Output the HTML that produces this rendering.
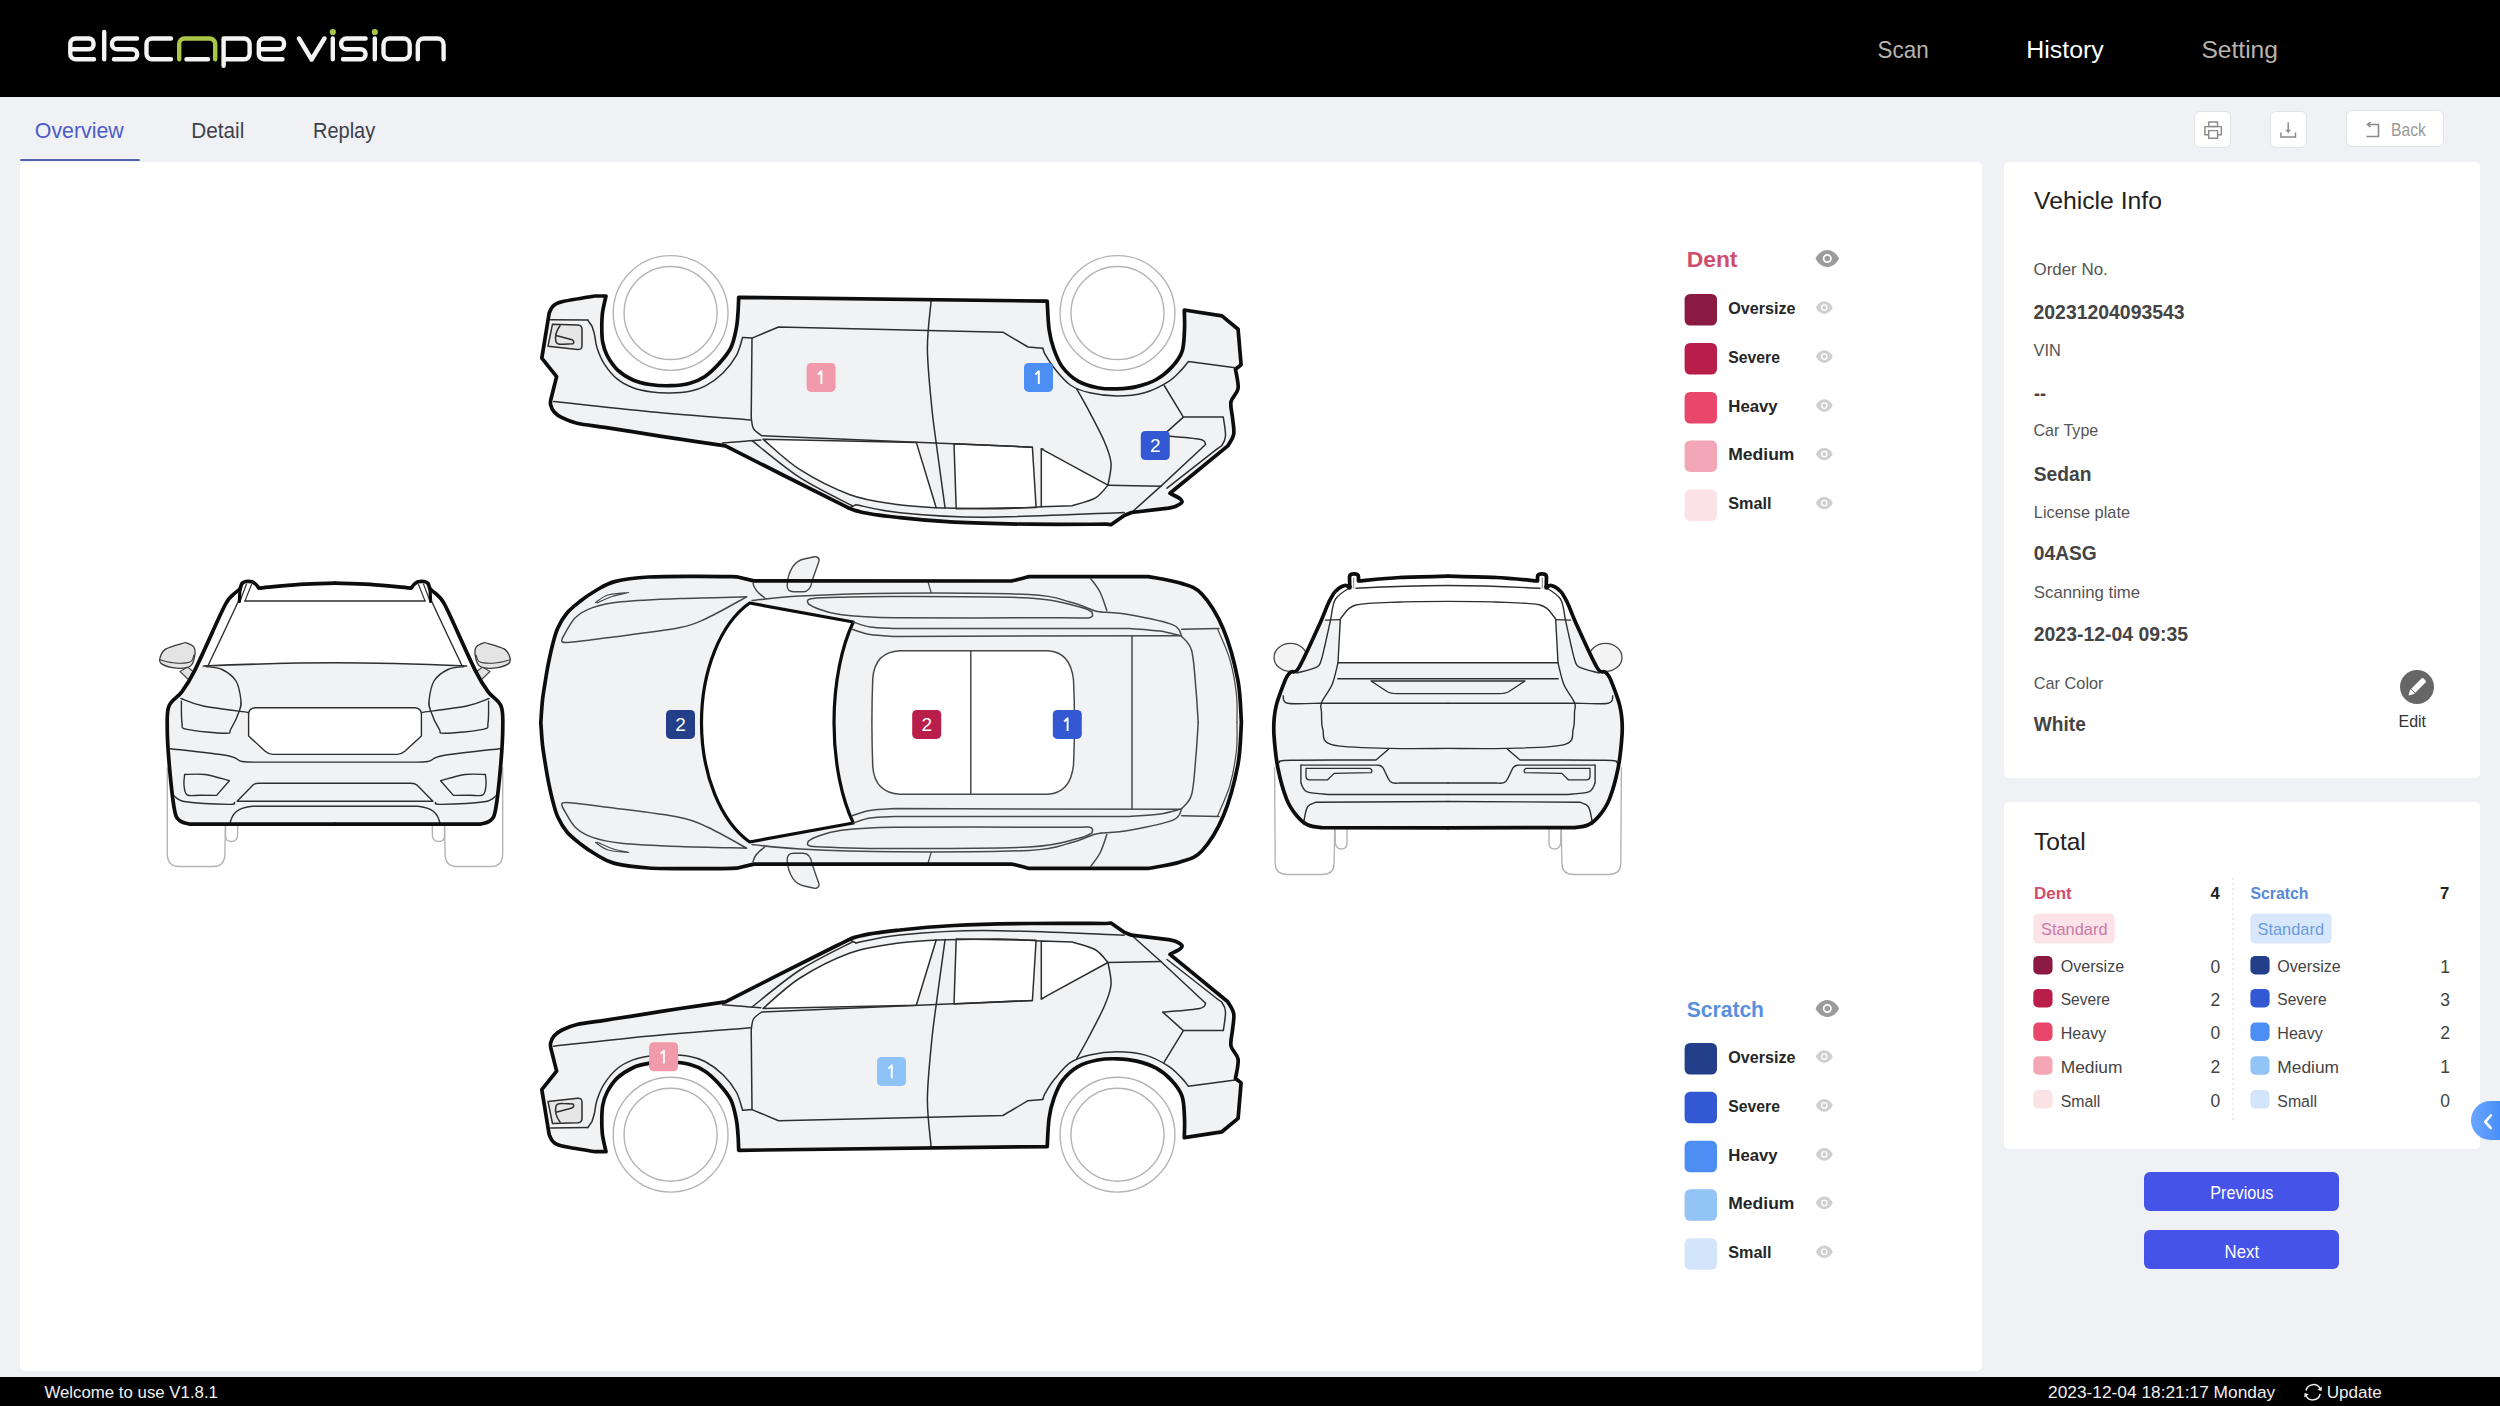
<!DOCTYPE html>
<html><head><meta charset="utf-8"><title>elscope vision - Overview</title>
<style>
html,body{margin:0;padding:0;}
body{width:2500px;height:1406px;overflow:hidden;position:relative;background:#f0f1f5;font-family:"Liberation Sans", sans-serif;}
.abs{position:absolute;}
#hdr{left:0;top:0;width:2500px;height:97px;background:#000;}
#ftr{left:0;top:1377px;width:2500px;height:29px;background:#000;}
#uline{left:19.5px;top:158.8px;width:120.5px;height:2.6px;background:#5262ad;border-radius:1px;}
#main{left:20px;top:162px;width:1962px;height:1209px;background:#fff;border-radius:5px;}
#info{left:2004px;top:162px;width:475.5px;height:616px;background:#fff;border-radius:5px;}
#total{left:2004px;top:802px;width:475.5px;height:347px;background:#fff;border-radius:5px;}
.ibtn{background:#fff;border:1px solid #e2e3e6;border-radius:6px;box-sizing:border-box;}
#bprint{left:2194px;top:111px;width:37px;height:37px;}
#bdown{left:2270px;top:111px;width:37px;height:37px;}
#bback{left:2346px;top:110px;width:98px;height:37px;}
.pbtn{left:2143.6px;width:195.4px;height:39px;background:#4553e8;border-radius:6px;}
#prev{top:1172px;}
#next{top:1230.2px;}
#tab{left:2471px;top:1101px;width:40px;height:39px;border-radius:19.5px 0 0 19.5px;background:linear-gradient(90deg,#6aa6ff,#3d86f6);}
svg{position:absolute;left:0;top:0;}
text{font-family:"Liberation Sans", sans-serif;}
</style></head>
<body>
<div class="abs" id="hdr"></div>
<div class="abs" id="main"></div>
<div class="abs" id="uline"></div>
<div class="abs" id="info"></div>
<div class="abs" id="total"></div>
<div class="abs ibtn" id="bprint"></div>
<div class="abs ibtn" id="bdown"></div>
<div class="abs ibtn" id="bback"></div>
<div class="abs pbtn" id="prev"></div>
<div class="abs pbtn" id="next"></div>
<div class="abs" id="tab"></div>
<div class="abs" id="ftr"></div>
<svg width="2500" height="1406" viewBox="0 0 2500 1406">
<g id="car-top-side" transform="translate(0,1447.7) scale(1,-1)"><circle cx="670.6" cy="1134.7" r="57.4" fill="#fff" stroke="#b4b4b4" stroke-width="1.4"/>
<circle cx="670.6" cy="1134.7" r="46.5" fill="none" stroke="#b4b4b4" stroke-width="1.4"/>
<circle cx="1117.5" cy="1134.7" r="57.4" fill="#fff" stroke="#b4b4b4" stroke-width="1.4"/>
<circle cx="1117.5" cy="1134.7" r="46.5" fill="none" stroke="#b4b4b4" stroke-width="1.4"/>
<path d="M606.0,1151.7 C605.4,1148.9 603.2,1140.3 602.5,1135.0 C601.8,1129.7 601.8,1125.0 601.8,1120.0 C601.8,1115.0 601.9,1109.7 602.8,1105.0 C603.7,1100.3 604.8,1096.5 607.2,1092.0 C609.6,1087.5 613.1,1082.0 617.4,1077.9 C621.7,1073.9 627.6,1070.2 633.0,1067.7 C638.4,1065.2 643.7,1064.2 650.0,1063.2 C656.3,1062.2 663.9,1061.8 670.6,1062.0 C677.3,1062.2 684.3,1063.0 690.0,1064.5 C695.7,1066.0 700.1,1067.9 705.0,1071.2 C709.9,1074.5 714.8,1079.3 719.1,1084.1 C723.4,1088.9 727.9,1093.9 730.8,1099.8 C733.7,1105.7 735.1,1113.4 736.3,1119.3 C737.5,1125.2 737.6,1129.8 738.0,1135.0 C738.4,1140.2 738.6,1147.8 738.7,1150.3 L1047.2,1146.6 C1047.5,1141.9 1048.0,1126.2 1049.1,1118.2 C1050.2,1110.2 1051.6,1105.0 1053.8,1098.7 C1056.0,1092.5 1058.4,1086.1 1062.4,1080.7 C1066.4,1075.3 1072.1,1070.0 1078.0,1066.6 C1083.9,1063.1 1091.1,1061.3 1097.6,1060.0 C1104.1,1058.7 1110.7,1058.6 1117.2,1058.8 C1123.7,1059.0 1130.2,1059.5 1136.7,1061.1 C1143.2,1062.7 1150.4,1064.9 1156.3,1068.2 C1162.2,1071.5 1167.6,1076.0 1171.9,1080.7 C1176.2,1085.4 1180.0,1090.0 1182.1,1096.3 C1184.2,1102.5 1184.1,1111.3 1184.5,1118.2 C1184.9,1125.1 1184.3,1134.5 1184.3,1137.7 L1221.9,1131.8 L1238.1,1118.4 L1241.1,1082.9 L1235.5,1078.5 C1235.9,1075.3 1238.8,1064.6 1238.1,1059.2 C1237.3,1053.8 1231.9,1050.9 1231.0,1046.0 C1230.1,1041.1 1232.0,1035.4 1232.5,1030.0 C1233.0,1024.6 1234.5,1018.3 1233.7,1013.6 C1232.9,1008.9 1228.8,1003.8 1227.8,1001.8 L1170.0,954.4 C1171.7,953.5 1178.0,950.5 1180.0,949.0 C1182.0,947.5 1182.6,946.8 1181.9,945.5 C1181.2,944.2 1178.2,942.5 1176.0,941.5 C1173.8,940.5 1169.8,939.9 1168.6,939.6 L1131.6,935.2 L1124.2,932.2 L1111.0,923.0 L1106.0,923.5 C1093.3,923.5 1055.3,923.2 1030.0,923.5 C1004.7,923.8 975.7,924.4 954.0,925.5 C932.3,926.6 915.7,928.2 900.0,930.0 C884.3,931.8 870.8,933.2 860.0,936.0 C849.2,938.8 857.4,935.5 835.0,946.5 C812.6,957.5 743.7,992.6 725.4,1001.8 C717.8,1002.9 695.3,1006.2 680.0,1008.5 C664.7,1010.8 646.1,1013.8 633.6,1015.8 C621.1,1017.8 614.1,1018.8 604.7,1020.3 C595.3,1021.8 584.1,1022.9 577.0,1024.5 C569.9,1026.1 565.8,1028.1 562.0,1030.0 C558.2,1031.9 555.9,1033.8 554.0,1036.0 C552.1,1038.2 551.1,1041.0 550.6,1043.0 C550.1,1045.0 550.8,1047.2 550.8,1048.0 L556.6,1071.1 L541.8,1089.6 L549.2,1134.7 C549.8,1135.8 550.9,1139.6 553.0,1141.5 C555.1,1143.4 555.0,1144.3 562.0,1146.0 C569.0,1147.7 589.6,1150.8 595.1,1151.7 Z" fill="#f1f2f4" stroke="none" stroke-width="0" stroke-linejoin="round" stroke-linecap="round"/>
<path d="M763.0,1008.5 C769.2,1003.4 785.5,987.2 800.0,978.0 C814.5,968.8 834.2,958.8 850.0,953.0 C865.8,947.2 880.6,945.7 895.0,943.5 C909.4,941.3 929.3,940.6 936.2,940.0 L916.3,1005.3 Z" fill="#fff" stroke="#2e2e2e" stroke-width="1.5" stroke-linejoin="round" stroke-linecap="round"/>
<path d="M954.0,1003.9 L956.2,938.9 L1036.1,940.3 L1032.4,1000.5 Z" fill="#fff" stroke="#2e2e2e" stroke-width="1.5" stroke-linejoin="round" stroke-linecap="round"/>
<path d="M1041.3,941.0 L1072.0,942.0 C1075.8,943.2 1089.0,946.1 1095.0,949.5 C1101.0,952.9 1105.8,960.3 1107.9,962.5 L1041.3,998.8 Z" fill="#fff" stroke="#2e2e2e" stroke-width="1.5" stroke-linejoin="round" stroke-linecap="round"/>
<path d="M553.7,1046.2 C569.8,1044.5 617.2,1039.1 650.0,1036.0 C682.8,1032.9 733.8,1029.1 750.5,1027.7" fill="none" stroke="#2e2e2e" stroke-width="1.5" stroke-linejoin="round" stroke-linecap="round"/>
<path d="M752.0,1109.6 L751.2,1030.0 C751.6,1028.2 751.8,1022.0 753.5,1019.0 C755.2,1016.0 760.2,1013.2 761.6,1012.0 L1032.4,1000.5" fill="none" stroke="#2e2e2e" stroke-width="1.5" stroke-linejoin="round" stroke-linecap="round"/>
<path d="M1041.3,998.8 L1043.0,998.6" fill="none" stroke="#2e2e2e" stroke-width="1.5" stroke-linejoin="round" stroke-linecap="round"/>
<path d="M722.4,1004.7 C726.2,1005.0 738.6,1006.0 745.0,1006.5 C751.4,1007.0 758.2,1007.5 760.9,1007.7" fill="none" stroke="#2e2e2e" stroke-width="1.5" stroke-linejoin="round" stroke-linecap="round"/>
<path d="M752.0,1007.0 C760.0,1000.8 783.2,980.9 800.0,970.0 C816.8,959.1 843.8,946.5 852.6,941.8" fill="none" stroke="#2e2e2e" stroke-width="1.5" stroke-linejoin="round" stroke-linecap="round"/>
<path d="M848.0,939.0 L856.0,943.0" fill="none" stroke="#2e2e2e" stroke-width="1.5" stroke-linejoin="round" stroke-linecap="round"/>
<path d="M856.0,943.0 C863.3,941.7 878.7,937.1 900.0,935.0 C921.3,932.9 946.2,930.5 983.6,930.5 C1021.0,930.5 1100.8,934.4 1124.2,935.2" fill="none" stroke="#2e2e2e" stroke-width="1.5" stroke-linejoin="round" stroke-linecap="round"/>
<path d="M936.2,940.0 C946.8,939.8 982.5,938.8 1000.0,939.0 C1017.5,939.2 1034.4,940.7 1041.3,941.0" fill="none" stroke="#2e2e2e" stroke-width="1.5" stroke-linejoin="round" stroke-linecap="round"/>
<path d="M945.1,939.6 C943.6,950.5 938.4,988.0 936.2,1004.7 C934.0,1021.4 933.3,1024.2 931.8,1040.0 C930.3,1055.8 927.5,1081.4 927.4,1099.2 C927.3,1117.0 930.5,1138.7 931.1,1146.6" fill="none" stroke="#2e2e2e" stroke-width="1.5" stroke-linejoin="round" stroke-linecap="round"/>
<path d="M1108.0,962.5 C1108.5,966.2 1111.7,977.6 1111.0,985.0 C1110.3,992.4 1108.0,997.8 1104.0,1007.0 C1100.0,1016.2 1091.7,1031.4 1087.2,1040.0 C1082.7,1048.6 1078.5,1055.4 1076.8,1058.5" fill="none" stroke="#2e2e2e" stroke-width="1.5" stroke-linejoin="round" stroke-linecap="round"/>
<path d="M1108.0,962.5 L1161.2,961.5" fill="none" stroke="#2e2e2e" stroke-width="1.5" stroke-linejoin="round" stroke-linecap="round"/>
<path d="M1131.6,935.2 L1161.2,961.8 L1205.6,1003.2 C1204.6,1004.1 1206.8,1006.9 1199.7,1008.4 C1192.6,1009.9 1168.9,1011.5 1162.7,1012.1 L1183.4,1030.6 L1223.3,1030.6 C1223.7,1027.5 1225.7,1016.7 1225.5,1012.0 C1225.3,1007.3 1223.7,1004.9 1222.0,1002.5 C1220.3,1000.1 1224.7,1004.7 1215.5,997.5 C1206.3,990.3 1175.1,965.8 1167.0,959.5" fill="none" stroke="#2e2e2e" stroke-width="1.5" stroke-linejoin="round" stroke-linecap="round"/>
<path d="M1183.4,1030.6 L1164.2,1062.2" fill="none" stroke="#2e2e2e" stroke-width="1.5" stroke-linejoin="round" stroke-linecap="round"/>
<path d="M743.1,1110.3 L752.0,1109.6 L778.6,1120.7 L1002.8,1115.5 L1028.0,1100.7 L1042.8,1099.5" fill="none" stroke="#2e2e2e" stroke-width="1.5" stroke-linejoin="round" stroke-linecap="round"/>
<path d="M587.8,1127.6 L592.0,1121.5 C592.4,1120.1 593.7,1116.6 594.5,1113.0 C595.3,1109.4 595.4,1104.8 597.0,1100.0 C598.6,1095.2 600.7,1089.3 604.1,1084.1 C607.5,1078.8 612.6,1072.5 617.4,1068.5 C622.2,1064.5 627.6,1062.0 633.0,1059.9 C638.4,1057.8 643.8,1056.8 650.0,1056.0 C656.2,1055.2 663.3,1054.7 670.0,1054.8 C676.7,1054.9 684.2,1055.4 690.0,1056.5 C695.8,1057.6 699.5,1058.5 705.0,1061.5 C710.5,1064.5 717.8,1069.6 723.0,1074.7 C728.2,1079.8 733.0,1086.1 736.3,1092.0 C739.6,1097.9 741.5,1107.2 742.6,1110.3" fill="none" stroke="#2e2e2e" stroke-width="1.5" stroke-linejoin="round" stroke-linecap="round"/>
<path d="M1042.8,1099.5 C1043.2,1098.5 1043.2,1096.6 1045.2,1093.2 C1047.2,1089.8 1050.4,1084.2 1054.6,1079.1 C1058.8,1074.0 1064.3,1066.7 1070.2,1062.7 C1076.1,1058.7 1082.0,1056.7 1089.8,1054.9 C1097.6,1053.1 1108.1,1051.7 1117.2,1051.7 C1126.3,1051.7 1136.0,1052.6 1144.5,1054.9 C1153.0,1057.2 1161.9,1062.0 1168.0,1065.8 C1174.1,1069.6 1177.9,1074.2 1181.3,1077.6 C1184.7,1081.0 1187.2,1084.8 1188.4,1086.2 L1235.2,1080.0" fill="none" stroke="#2e2e2e" stroke-width="1.5" stroke-linejoin="round" stroke-linecap="round"/>
<path d="M550.7,1128.0 L587.8,1127.6" fill="none" stroke="#2e2e2e" stroke-width="1.5" stroke-linejoin="round" stroke-linecap="round"/>
<path d="M548,1101.5 L577.5,1098.2 Q582,1097.8 582,1102 L582,1118.5 Q582,1122.5 578,1122.8 L552.5,1123.5 Z" fill="#e6e6e6" stroke="#2e2e2e" stroke-width="1.5" stroke-linejoin="round" stroke-linecap="round"/>
<path d="M556,1106 Q557,1103 563,1103.5 L573,1104 Q575,1106 572,1108 L557,1112 M556,1106 Q554,1114 560,1122" fill="none" stroke="#2e2e2e" stroke-width="1.5" stroke-linejoin="round" stroke-linecap="round"/>
<path d="M606.0,1151.7 C605.4,1148.9 603.2,1140.3 602.5,1135.0 C601.8,1129.7 601.8,1125.0 601.8,1120.0 C601.8,1115.0 601.9,1109.7 602.8,1105.0 C603.7,1100.3 604.8,1096.5 607.2,1092.0 C609.6,1087.5 613.1,1082.0 617.4,1077.9 C621.7,1073.9 627.6,1070.2 633.0,1067.7 C638.4,1065.2 643.7,1064.2 650.0,1063.2 C656.3,1062.2 663.9,1061.8 670.6,1062.0 C677.3,1062.2 684.3,1063.0 690.0,1064.5 C695.7,1066.0 700.1,1067.9 705.0,1071.2 C709.9,1074.5 714.8,1079.3 719.1,1084.1 C723.4,1088.9 727.9,1093.9 730.8,1099.8 C733.7,1105.7 735.1,1113.4 736.3,1119.3 C737.5,1125.2 737.6,1129.8 738.0,1135.0 C738.4,1140.2 738.6,1147.8 738.7,1150.3 L1047.2,1146.6 C1047.5,1141.9 1048.0,1126.2 1049.1,1118.2 C1050.2,1110.2 1051.6,1105.0 1053.8,1098.7 C1056.0,1092.5 1058.4,1086.1 1062.4,1080.7 C1066.4,1075.3 1072.1,1070.0 1078.0,1066.6 C1083.9,1063.1 1091.1,1061.3 1097.6,1060.0 C1104.1,1058.7 1110.7,1058.6 1117.2,1058.8 C1123.7,1059.0 1130.2,1059.5 1136.7,1061.1 C1143.2,1062.7 1150.4,1064.9 1156.3,1068.2 C1162.2,1071.5 1167.6,1076.0 1171.9,1080.7 C1176.2,1085.4 1180.0,1090.0 1182.1,1096.3 C1184.2,1102.5 1184.1,1111.3 1184.5,1118.2 C1184.9,1125.1 1184.3,1134.5 1184.3,1137.7 L1221.9,1131.8 L1238.1,1118.4 L1241.1,1082.9 L1235.5,1078.5 C1235.9,1075.3 1238.8,1064.6 1238.1,1059.2 C1237.3,1053.8 1231.9,1050.9 1231.0,1046.0 C1230.1,1041.1 1232.0,1035.4 1232.5,1030.0 C1233.0,1024.6 1234.5,1018.3 1233.7,1013.6 C1232.9,1008.9 1228.8,1003.8 1227.8,1001.8 L1170.0,954.4 C1171.7,953.5 1178.0,950.5 1180.0,949.0 C1182.0,947.5 1182.6,946.8 1181.9,945.5 C1181.2,944.2 1178.2,942.5 1176.0,941.5 C1173.8,940.5 1169.8,939.9 1168.6,939.6 L1131.6,935.2 L1124.2,932.2 L1111.0,923.0 L1106.0,923.5 C1093.3,923.5 1055.3,923.2 1030.0,923.5 C1004.7,923.8 975.7,924.4 954.0,925.5 C932.3,926.6 915.7,928.2 900.0,930.0 C884.3,931.8 870.8,933.2 860.0,936.0 C849.2,938.8 857.4,935.5 835.0,946.5 C812.6,957.5 743.7,992.6 725.4,1001.8 C717.8,1002.9 695.3,1006.2 680.0,1008.5 C664.7,1010.8 646.1,1013.8 633.6,1015.8 C621.1,1017.8 614.1,1018.8 604.7,1020.3 C595.3,1021.8 584.1,1022.9 577.0,1024.5 C569.9,1026.1 565.8,1028.1 562.0,1030.0 C558.2,1031.9 555.9,1033.8 554.0,1036.0 C552.1,1038.2 551.1,1041.0 550.6,1043.0 C550.1,1045.0 550.8,1047.2 550.8,1048.0 L556.6,1071.1 L541.8,1089.6 L549.2,1134.7 C549.8,1135.8 550.9,1139.6 553.0,1141.5 C555.1,1143.4 555.0,1144.3 562.0,1146.0 C569.0,1147.7 589.6,1150.8 595.1,1151.7 Z" fill="none" stroke="#0d0d0d" stroke-width="3.7" stroke-linejoin="round" stroke-linecap="round"/></g>
<g id="car-bottom-side"><circle cx="670.6" cy="1134.7" r="57.4" fill="#fff" stroke="#b4b4b4" stroke-width="1.4"/>
<circle cx="670.6" cy="1134.7" r="46.5" fill="none" stroke="#b4b4b4" stroke-width="1.4"/>
<circle cx="1117.5" cy="1134.7" r="57.4" fill="#fff" stroke="#b4b4b4" stroke-width="1.4"/>
<circle cx="1117.5" cy="1134.7" r="46.5" fill="none" stroke="#b4b4b4" stroke-width="1.4"/>
<path d="M606.0,1151.7 C605.4,1148.9 603.2,1140.3 602.5,1135.0 C601.8,1129.7 601.8,1125.0 601.8,1120.0 C601.8,1115.0 601.9,1109.7 602.8,1105.0 C603.7,1100.3 604.8,1096.5 607.2,1092.0 C609.6,1087.5 613.1,1082.0 617.4,1077.9 C621.7,1073.9 627.6,1070.2 633.0,1067.7 C638.4,1065.2 643.7,1064.2 650.0,1063.2 C656.3,1062.2 663.9,1061.8 670.6,1062.0 C677.3,1062.2 684.3,1063.0 690.0,1064.5 C695.7,1066.0 700.1,1067.9 705.0,1071.2 C709.9,1074.5 714.8,1079.3 719.1,1084.1 C723.4,1088.9 727.9,1093.9 730.8,1099.8 C733.7,1105.7 735.1,1113.4 736.3,1119.3 C737.5,1125.2 737.6,1129.8 738.0,1135.0 C738.4,1140.2 738.6,1147.8 738.7,1150.3 L1047.2,1146.6 C1047.5,1141.9 1048.0,1126.2 1049.1,1118.2 C1050.2,1110.2 1051.6,1105.0 1053.8,1098.7 C1056.0,1092.5 1058.4,1086.1 1062.4,1080.7 C1066.4,1075.3 1072.1,1070.0 1078.0,1066.6 C1083.9,1063.1 1091.1,1061.3 1097.6,1060.0 C1104.1,1058.7 1110.7,1058.6 1117.2,1058.8 C1123.7,1059.0 1130.2,1059.5 1136.7,1061.1 C1143.2,1062.7 1150.4,1064.9 1156.3,1068.2 C1162.2,1071.5 1167.6,1076.0 1171.9,1080.7 C1176.2,1085.4 1180.0,1090.0 1182.1,1096.3 C1184.2,1102.5 1184.1,1111.3 1184.5,1118.2 C1184.9,1125.1 1184.3,1134.5 1184.3,1137.7 L1221.9,1131.8 L1238.1,1118.4 L1241.1,1082.9 L1235.5,1078.5 C1235.9,1075.3 1238.8,1064.6 1238.1,1059.2 C1237.3,1053.8 1231.9,1050.9 1231.0,1046.0 C1230.1,1041.1 1232.0,1035.4 1232.5,1030.0 C1233.0,1024.6 1234.5,1018.3 1233.7,1013.6 C1232.9,1008.9 1228.8,1003.8 1227.8,1001.8 L1170.0,954.4 C1171.7,953.5 1178.0,950.5 1180.0,949.0 C1182.0,947.5 1182.6,946.8 1181.9,945.5 C1181.2,944.2 1178.2,942.5 1176.0,941.5 C1173.8,940.5 1169.8,939.9 1168.6,939.6 L1131.6,935.2 L1124.2,932.2 L1111.0,923.0 L1106.0,923.5 C1093.3,923.5 1055.3,923.2 1030.0,923.5 C1004.7,923.8 975.7,924.4 954.0,925.5 C932.3,926.6 915.7,928.2 900.0,930.0 C884.3,931.8 870.8,933.2 860.0,936.0 C849.2,938.8 857.4,935.5 835.0,946.5 C812.6,957.5 743.7,992.6 725.4,1001.8 C717.8,1002.9 695.3,1006.2 680.0,1008.5 C664.7,1010.8 646.1,1013.8 633.6,1015.8 C621.1,1017.8 614.1,1018.8 604.7,1020.3 C595.3,1021.8 584.1,1022.9 577.0,1024.5 C569.9,1026.1 565.8,1028.1 562.0,1030.0 C558.2,1031.9 555.9,1033.8 554.0,1036.0 C552.1,1038.2 551.1,1041.0 550.6,1043.0 C550.1,1045.0 550.8,1047.2 550.8,1048.0 L556.6,1071.1 L541.8,1089.6 L549.2,1134.7 C549.8,1135.8 550.9,1139.6 553.0,1141.5 C555.1,1143.4 555.0,1144.3 562.0,1146.0 C569.0,1147.7 589.6,1150.8 595.1,1151.7 Z" fill="#f1f2f4" stroke="none" stroke-width="0" stroke-linejoin="round" stroke-linecap="round"/>
<path d="M763.0,1008.5 C769.2,1003.4 785.5,987.2 800.0,978.0 C814.5,968.8 834.2,958.8 850.0,953.0 C865.8,947.2 880.6,945.7 895.0,943.5 C909.4,941.3 929.3,940.6 936.2,940.0 L916.3,1005.3 Z" fill="#fff" stroke="#2e2e2e" stroke-width="1.5" stroke-linejoin="round" stroke-linecap="round"/>
<path d="M954.0,1003.9 L956.2,938.9 L1036.1,940.3 L1032.4,1000.5 Z" fill="#fff" stroke="#2e2e2e" stroke-width="1.5" stroke-linejoin="round" stroke-linecap="round"/>
<path d="M1041.3,941.0 L1072.0,942.0 C1075.8,943.2 1089.0,946.1 1095.0,949.5 C1101.0,952.9 1105.8,960.3 1107.9,962.5 L1041.3,998.8 Z" fill="#fff" stroke="#2e2e2e" stroke-width="1.5" stroke-linejoin="round" stroke-linecap="round"/>
<path d="M553.7,1046.2 C569.8,1044.5 617.2,1039.1 650.0,1036.0 C682.8,1032.9 733.8,1029.1 750.5,1027.7" fill="none" stroke="#2e2e2e" stroke-width="1.5" stroke-linejoin="round" stroke-linecap="round"/>
<path d="M752.0,1109.6 L751.2,1030.0 C751.6,1028.2 751.8,1022.0 753.5,1019.0 C755.2,1016.0 760.2,1013.2 761.6,1012.0 L1032.4,1000.5" fill="none" stroke="#2e2e2e" stroke-width="1.5" stroke-linejoin="round" stroke-linecap="round"/>
<path d="M1041.3,998.8 L1043.0,998.6" fill="none" stroke="#2e2e2e" stroke-width="1.5" stroke-linejoin="round" stroke-linecap="round"/>
<path d="M722.4,1004.7 C726.2,1005.0 738.6,1006.0 745.0,1006.5 C751.4,1007.0 758.2,1007.5 760.9,1007.7" fill="none" stroke="#2e2e2e" stroke-width="1.5" stroke-linejoin="round" stroke-linecap="round"/>
<path d="M752.0,1007.0 C760.0,1000.8 783.2,980.9 800.0,970.0 C816.8,959.1 843.8,946.5 852.6,941.8" fill="none" stroke="#2e2e2e" stroke-width="1.5" stroke-linejoin="round" stroke-linecap="round"/>
<path d="M848.0,939.0 L856.0,943.0" fill="none" stroke="#2e2e2e" stroke-width="1.5" stroke-linejoin="round" stroke-linecap="round"/>
<path d="M856.0,943.0 C863.3,941.7 878.7,937.1 900.0,935.0 C921.3,932.9 946.2,930.5 983.6,930.5 C1021.0,930.5 1100.8,934.4 1124.2,935.2" fill="none" stroke="#2e2e2e" stroke-width="1.5" stroke-linejoin="round" stroke-linecap="round"/>
<path d="M936.2,940.0 C946.8,939.8 982.5,938.8 1000.0,939.0 C1017.5,939.2 1034.4,940.7 1041.3,941.0" fill="none" stroke="#2e2e2e" stroke-width="1.5" stroke-linejoin="round" stroke-linecap="round"/>
<path d="M945.1,939.6 C943.6,950.5 938.4,988.0 936.2,1004.7 C934.0,1021.4 933.3,1024.2 931.8,1040.0 C930.3,1055.8 927.5,1081.4 927.4,1099.2 C927.3,1117.0 930.5,1138.7 931.1,1146.6" fill="none" stroke="#2e2e2e" stroke-width="1.5" stroke-linejoin="round" stroke-linecap="round"/>
<path d="M1108.0,962.5 C1108.5,966.2 1111.7,977.6 1111.0,985.0 C1110.3,992.4 1108.0,997.8 1104.0,1007.0 C1100.0,1016.2 1091.7,1031.4 1087.2,1040.0 C1082.7,1048.6 1078.5,1055.4 1076.8,1058.5" fill="none" stroke="#2e2e2e" stroke-width="1.5" stroke-linejoin="round" stroke-linecap="round"/>
<path d="M1108.0,962.5 L1161.2,961.5" fill="none" stroke="#2e2e2e" stroke-width="1.5" stroke-linejoin="round" stroke-linecap="round"/>
<path d="M1131.6,935.2 L1161.2,961.8 L1205.6,1003.2 C1204.6,1004.1 1206.8,1006.9 1199.7,1008.4 C1192.6,1009.9 1168.9,1011.5 1162.7,1012.1 L1183.4,1030.6 L1223.3,1030.6 C1223.7,1027.5 1225.7,1016.7 1225.5,1012.0 C1225.3,1007.3 1223.7,1004.9 1222.0,1002.5 C1220.3,1000.1 1224.7,1004.7 1215.5,997.5 C1206.3,990.3 1175.1,965.8 1167.0,959.5" fill="none" stroke="#2e2e2e" stroke-width="1.5" stroke-linejoin="round" stroke-linecap="round"/>
<path d="M1183.4,1030.6 L1164.2,1062.2" fill="none" stroke="#2e2e2e" stroke-width="1.5" stroke-linejoin="round" stroke-linecap="round"/>
<path d="M743.1,1110.3 L752.0,1109.6 L778.6,1120.7 L1002.8,1115.5 L1028.0,1100.7 L1042.8,1099.5" fill="none" stroke="#2e2e2e" stroke-width="1.5" stroke-linejoin="round" stroke-linecap="round"/>
<path d="M587.8,1127.6 L592.0,1121.5 C592.4,1120.1 593.7,1116.6 594.5,1113.0 C595.3,1109.4 595.4,1104.8 597.0,1100.0 C598.6,1095.2 600.7,1089.3 604.1,1084.1 C607.5,1078.8 612.6,1072.5 617.4,1068.5 C622.2,1064.5 627.6,1062.0 633.0,1059.9 C638.4,1057.8 643.8,1056.8 650.0,1056.0 C656.2,1055.2 663.3,1054.7 670.0,1054.8 C676.7,1054.9 684.2,1055.4 690.0,1056.5 C695.8,1057.6 699.5,1058.5 705.0,1061.5 C710.5,1064.5 717.8,1069.6 723.0,1074.7 C728.2,1079.8 733.0,1086.1 736.3,1092.0 C739.6,1097.9 741.5,1107.2 742.6,1110.3" fill="none" stroke="#2e2e2e" stroke-width="1.5" stroke-linejoin="round" stroke-linecap="round"/>
<path d="M1042.8,1099.5 C1043.2,1098.5 1043.2,1096.6 1045.2,1093.2 C1047.2,1089.8 1050.4,1084.2 1054.6,1079.1 C1058.8,1074.0 1064.3,1066.7 1070.2,1062.7 C1076.1,1058.7 1082.0,1056.7 1089.8,1054.9 C1097.6,1053.1 1108.1,1051.7 1117.2,1051.7 C1126.3,1051.7 1136.0,1052.6 1144.5,1054.9 C1153.0,1057.2 1161.9,1062.0 1168.0,1065.8 C1174.1,1069.6 1177.9,1074.2 1181.3,1077.6 C1184.7,1081.0 1187.2,1084.8 1188.4,1086.2 L1235.2,1080.0" fill="none" stroke="#2e2e2e" stroke-width="1.5" stroke-linejoin="round" stroke-linecap="round"/>
<path d="M550.7,1128.0 L587.8,1127.6" fill="none" stroke="#2e2e2e" stroke-width="1.5" stroke-linejoin="round" stroke-linecap="round"/>
<path d="M548,1101.5 L577.5,1098.2 Q582,1097.8 582,1102 L582,1118.5 Q582,1122.5 578,1122.8 L552.5,1123.5 Z" fill="#e6e6e6" stroke="#2e2e2e" stroke-width="1.5" stroke-linejoin="round" stroke-linecap="round"/>
<path d="M556,1106 Q557,1103 563,1103.5 L573,1104 Q575,1106 572,1108 L557,1112 M556,1106 Q554,1114 560,1122" fill="none" stroke="#2e2e2e" stroke-width="1.5" stroke-linejoin="round" stroke-linecap="round"/>
<path d="M606.0,1151.7 C605.4,1148.9 603.2,1140.3 602.5,1135.0 C601.8,1129.7 601.8,1125.0 601.8,1120.0 C601.8,1115.0 601.9,1109.7 602.8,1105.0 C603.7,1100.3 604.8,1096.5 607.2,1092.0 C609.6,1087.5 613.1,1082.0 617.4,1077.9 C621.7,1073.9 627.6,1070.2 633.0,1067.7 C638.4,1065.2 643.7,1064.2 650.0,1063.2 C656.3,1062.2 663.9,1061.8 670.6,1062.0 C677.3,1062.2 684.3,1063.0 690.0,1064.5 C695.7,1066.0 700.1,1067.9 705.0,1071.2 C709.9,1074.5 714.8,1079.3 719.1,1084.1 C723.4,1088.9 727.9,1093.9 730.8,1099.8 C733.7,1105.7 735.1,1113.4 736.3,1119.3 C737.5,1125.2 737.6,1129.8 738.0,1135.0 C738.4,1140.2 738.6,1147.8 738.7,1150.3 L1047.2,1146.6 C1047.5,1141.9 1048.0,1126.2 1049.1,1118.2 C1050.2,1110.2 1051.6,1105.0 1053.8,1098.7 C1056.0,1092.5 1058.4,1086.1 1062.4,1080.7 C1066.4,1075.3 1072.1,1070.0 1078.0,1066.6 C1083.9,1063.1 1091.1,1061.3 1097.6,1060.0 C1104.1,1058.7 1110.7,1058.6 1117.2,1058.8 C1123.7,1059.0 1130.2,1059.5 1136.7,1061.1 C1143.2,1062.7 1150.4,1064.9 1156.3,1068.2 C1162.2,1071.5 1167.6,1076.0 1171.9,1080.7 C1176.2,1085.4 1180.0,1090.0 1182.1,1096.3 C1184.2,1102.5 1184.1,1111.3 1184.5,1118.2 C1184.9,1125.1 1184.3,1134.5 1184.3,1137.7 L1221.9,1131.8 L1238.1,1118.4 L1241.1,1082.9 L1235.5,1078.5 C1235.9,1075.3 1238.8,1064.6 1238.1,1059.2 C1237.3,1053.8 1231.9,1050.9 1231.0,1046.0 C1230.1,1041.1 1232.0,1035.4 1232.5,1030.0 C1233.0,1024.6 1234.5,1018.3 1233.7,1013.6 C1232.9,1008.9 1228.8,1003.8 1227.8,1001.8 L1170.0,954.4 C1171.7,953.5 1178.0,950.5 1180.0,949.0 C1182.0,947.5 1182.6,946.8 1181.9,945.5 C1181.2,944.2 1178.2,942.5 1176.0,941.5 C1173.8,940.5 1169.8,939.9 1168.6,939.6 L1131.6,935.2 L1124.2,932.2 L1111.0,923.0 L1106.0,923.5 C1093.3,923.5 1055.3,923.2 1030.0,923.5 C1004.7,923.8 975.7,924.4 954.0,925.5 C932.3,926.6 915.7,928.2 900.0,930.0 C884.3,931.8 870.8,933.2 860.0,936.0 C849.2,938.8 857.4,935.5 835.0,946.5 C812.6,957.5 743.7,992.6 725.4,1001.8 C717.8,1002.9 695.3,1006.2 680.0,1008.5 C664.7,1010.8 646.1,1013.8 633.6,1015.8 C621.1,1017.8 614.1,1018.8 604.7,1020.3 C595.3,1021.8 584.1,1022.9 577.0,1024.5 C569.9,1026.1 565.8,1028.1 562.0,1030.0 C558.2,1031.9 555.9,1033.8 554.0,1036.0 C552.1,1038.2 551.1,1041.0 550.6,1043.0 C550.1,1045.0 550.8,1047.2 550.8,1048.0 L556.6,1071.1 L541.8,1089.6 L549.2,1134.7 C549.8,1135.8 550.9,1139.6 553.0,1141.5 C555.1,1143.4 555.0,1144.3 562.0,1146.0 C569.0,1147.7 589.6,1150.8 595.1,1151.7 Z" fill="none" stroke="#0d0d0d" stroke-width="3.7" stroke-linejoin="round" stroke-linecap="round"/></g>
<g id="car-top"><path d="M540.8,722.5 C541.1,718.8 541.7,707.1 542.5,700.0 C543.3,692.9 544.5,686.3 545.5,680.0 C546.5,673.7 547.4,668.2 548.6,662.4 C549.8,656.6 551.0,650.7 552.5,645.0 C554.0,639.3 555.3,633.5 557.7,628.2 C560.1,622.9 563.2,617.5 567.0,613.0 C570.8,608.5 575.7,604.8 580.5,601.0 C585.3,597.2 590.3,593.7 596.0,590.5 C601.7,587.3 605.8,583.9 614.6,581.6 C623.4,579.4 634.5,577.9 648.7,577.0 C662.9,576.1 685.4,576.3 700.0,576.3 C714.6,576.3 730.5,576.7 736.6,576.8 L753.9,580.9 L1011.7,581.0 C1013.1,580.7 1017.1,579.7 1020.0,579.0 C1022.9,578.3 1027.5,577.0 1029.0,576.6 L1148.5,576.6 C1153.8,577.7 1171.3,580.2 1180.2,583.1 C1189.1,586.0 1194.6,586.3 1201.8,594.0 C1209.0,601.7 1217.4,614.9 1223.4,629.2 C1229.4,643.5 1234.8,664.1 1237.8,679.6 C1240.8,695.1 1240.8,715.4 1241.4,722.5 C1240.8,729.6 1240.8,749.9 1237.8,765.4 C1234.8,780.9 1229.4,801.5 1223.4,815.8 C1217.4,830.1 1209.0,843.3 1201.8,851.0 C1194.6,858.7 1189.1,859.0 1180.2,861.9 C1171.3,864.8 1153.8,867.3 1148.5,868.4 L1029.0,868.4 C1027.5,868.0 1022.9,866.7 1020.0,866.0 C1017.1,865.3 1013.1,864.3 1011.7,864.0 L753.9,864.1 L736.6,868.2 C730.5,868.3 714.6,868.7 700.0,868.7 C685.4,868.7 662.9,868.9 648.7,868.0 C634.5,867.1 623.4,865.6 614.6,863.4 C605.8,861.1 601.7,857.7 596.0,854.5 C590.3,851.3 585.3,847.8 580.5,844.0 C575.7,840.2 570.8,836.5 567.0,832.0 C563.2,827.5 560.1,822.1 557.7,816.8 C555.3,811.5 554.0,805.7 552.5,800.0 C551.0,794.3 549.8,788.4 548.6,782.6 C547.4,776.8 546.5,771.3 545.5,765.0 C544.5,758.7 543.3,752.1 542.5,745.0 C541.7,737.9 541.1,726.2 540.8,722.5 Z" fill="#f1f2f4" stroke="none" stroke-width="0" stroke-linejoin="round" stroke-linecap="round"/>
<path d="M816.8,557 Q820,558.5 818.7,562 L812.2,580.5 Q810.5,591.7 803.5,591.7 L793.5,591.7 Q787,591.7 787.2,585 Q787.5,575 792.8,566.6 Q797,560.5 804,559 L814.5,556.7 Q815.8,556.5 816.8,557 Z" fill="#f1f2f4" stroke="#484848" stroke-width="1.4" stroke-linejoin="round" stroke-linecap="round"/>
<path d="M816.8,557 Q820,558.5 818.7,562 L812.2,580.5 Q810.5,591.7 803.5,591.7 L793.5,591.7 Q787,591.7 787.2,585 Q787.5,575 792.8,566.6 Q797,560.5 804,559 L814.5,556.7 Q815.8,556.5 816.8,557 Z" fill="#f1f2f4" stroke="#484848" stroke-width="1.4" stroke-linejoin="round" stroke-linecap="round" transform="translate(0,1445.0) scale(1,-1)"/>
<path d="M900,650.8 L1047.7,650.8 Q1070.5,652 1073.5,680 Q1075.5,722.5 1073.5,765 Q1070.5,793 1047.7,794.2 L900,794.2 Q875,793 872.8,767 Q871,722.5 872.8,678 Q875,652 900,650.8 Z" fill="#fff" stroke="#484848" stroke-width="1.5" stroke-linejoin="round" stroke-linecap="round"/>
<path d="M970.8,650.8 L970.8,794.2" fill="none" stroke="#484848" stroke-width="1.5" stroke-linejoin="round" stroke-linecap="round"/>
<path d="M749.6,603 L853.3,622 A60,136.8 0 0 0 853.3,823 L749.6,842 A80,130.3 0 0 1 749.6,603 Z" fill="#fff" stroke="#0d0d0d" stroke-width="3.2" stroke-linejoin="round" stroke-linecap="round"/>
<path d="M562.4,638.0 C564.5,634.7 570.0,623.1 575.0,618.0 C580.0,612.9 584.9,610.3 592.6,607.6 C600.3,604.9 606.8,603.3 621.4,601.8 C636.0,600.3 659.1,599.3 680.0,598.5 C700.9,597.7 735.6,597.1 746.7,596.8 C740.2,600.3 719.1,612.5 707.8,617.7 C696.5,622.9 695.8,624.4 679.0,627.8 C662.2,631.1 625.8,635.3 607.0,637.8 C588.2,640.2 573.4,642.5 566.0,642.5 C558.6,642.5 563.0,638.8 562.4,638.0" fill="none" stroke="#484848" stroke-width="1.5" stroke-linejoin="round" stroke-linecap="round"/>
<path d="M562.4,807.0 C564.5,810.3 570.0,821.9 575.0,827.0 C580.0,832.1 584.9,834.7 592.6,837.4 C600.3,840.1 606.8,841.7 621.4,843.2 C636.0,844.7 659.1,845.7 680.0,846.5 C700.9,847.3 735.6,847.9 746.7,848.2 C740.2,844.7 719.1,832.5 707.8,827.3 C696.5,822.1 695.8,820.6 679.0,817.2 C662.2,813.9 625.8,809.7 607.0,807.2 C588.2,804.8 573.4,802.5 566.0,802.5 C558.6,802.5 563.0,806.2 562.4,807.0" fill="none" stroke="#484848" stroke-width="1.5" stroke-linejoin="round" stroke-linecap="round"/>
<path d="M595.5,602.5 C597.6,601.2 602.5,596.7 608.0,595.0 C613.5,593.3 625.2,592.9 628.6,592.5 C625.8,593.2 617.3,594.8 612.0,596.5 C606.7,598.2 599.5,601.9 597.0,603.0" fill="none" stroke="#484848" stroke-width="1.2" stroke-linejoin="round" stroke-linecap="round"/>
<path d="M595.5,842.5 C597.6,843.8 602.5,848.3 608.0,850.0 C613.5,851.7 625.2,852.1 628.6,852.5 C625.8,851.8 617.3,850.2 612.0,848.5 C606.7,846.8 599.5,843.1 597.0,842.0" fill="none" stroke="#484848" stroke-width="1.2" stroke-linejoin="round" stroke-linecap="round"/>
<path d="M753,583.4 C754,588.5 757.5,593 764.5,597.6" fill="none" stroke="#484848" stroke-width="1.5" stroke-linejoin="round" stroke-linecap="round"/>
<path d="M753,861.6 C754,856.5 757.5,852.0 764.5,847.4" fill="none" stroke="#484848" stroke-width="1.5" stroke-linejoin="round" stroke-linecap="round"/>
<path d="M752.0,600.5 C760.0,599.8 776.2,597.2 800.0,596.0 C823.8,594.8 856.8,593.4 895.0,593.2 C933.2,593.0 999.8,593.1 1029.0,594.6 C1058.2,596.1 1059.2,599.4 1070.0,602.0 C1080.8,604.6 1088.6,608.9 1093.8,610.5 C1099.0,612.1 1099.8,611.7 1101.0,611.9" fill="none" stroke="#484848" stroke-width="1.5" stroke-linejoin="round" stroke-linecap="round"/>
<path d="M752.0,844.5 C760.0,845.2 776.2,847.8 800.0,849.0 C823.8,850.2 856.8,851.6 895.0,851.8 C933.2,852.0 999.8,851.9 1029.0,850.4 C1058.2,848.9 1059.2,845.6 1070.0,843.0 C1080.8,840.4 1088.6,836.1 1093.8,834.5 C1099.0,832.9 1099.8,833.3 1101.0,833.1" fill="none" stroke="#484848" stroke-width="1.5" stroke-linejoin="round" stroke-linecap="round"/>
<path d="M808.5,604.0 C808.4,603.4 806.9,601.5 807.6,600.6 C808.4,599.7 807.6,599.0 813.0,598.4 C818.4,597.8 826.3,597.6 840.0,597.3 C853.7,597.0 863.5,596.4 895.0,596.5 C926.5,596.6 998.5,596.3 1029.0,598.0 C1059.5,599.7 1067.5,604.2 1078.0,606.5 C1088.5,608.8 1089.7,611.1 1092.0,612.0 C1091.6,613.0 1094.8,616.8 1089.5,617.7 C1084.2,618.7 1092.4,617.7 1060.0,617.7 C1027.6,617.7 931.7,618.2 895.0,617.7 C858.3,617.2 853.2,616.1 840.0,614.5 C826.8,612.9 821.2,609.8 816.0,608.0 C810.8,606.2 809.8,604.7 808.5,604.0" fill="none" stroke="#484848" stroke-width="1.5" stroke-linejoin="round" stroke-linecap="round"/>
<path d="M808.5,841.0 C808.4,841.6 806.9,843.5 807.6,844.4 C808.4,845.3 807.6,846.0 813.0,846.6 C818.4,847.2 826.3,847.4 840.0,847.7 C853.7,848.0 863.5,848.6 895.0,848.5 C926.5,848.4 998.5,848.7 1029.0,847.0 C1059.5,845.3 1067.5,840.8 1078.0,838.5 C1088.5,836.2 1089.7,833.9 1092.0,833.0 C1091.6,832.0 1094.8,828.2 1089.5,827.3 C1084.2,826.3 1092.4,827.3 1060.0,827.3 C1027.6,827.3 931.7,826.8 895.0,827.3 C858.3,827.8 853.2,828.9 840.0,830.5 C826.8,832.1 821.2,835.2 816.0,837.0 C810.8,838.8 809.8,840.3 808.5,841.0" fill="none" stroke="#484848" stroke-width="1.5" stroke-linejoin="round" stroke-linecap="round"/>
<path d="M853.3,622.0 C856.1,622.8 863.0,625.9 870.0,627.0 C877.0,628.1 890.8,628.2 895.0,628.5 L1129.8,628.5 C1134.8,628.9 1151.6,629.8 1160.0,631.0 C1168.4,632.2 1176.8,634.9 1180.2,635.7" fill="none" stroke="#484848" stroke-width="1.5" stroke-linejoin="round" stroke-linecap="round"/>
<path d="M853.3,823.0 C856.1,822.2 863.0,819.1 870.0,818.0 C877.0,816.9 890.8,816.8 895.0,816.5 L1129.8,816.5 C1134.8,816.1 1151.6,815.2 1160.0,814.0 C1168.4,812.8 1176.8,810.1 1180.2,809.3" fill="none" stroke="#484848" stroke-width="1.5" stroke-linejoin="round" stroke-linecap="round"/>
<path d="M851.8,629.2 C854.8,630.1 862.8,633.3 870.0,634.5 C877.2,635.7 890.8,636.1 895.0,636.4 L1180.2,635.7" fill="none" stroke="#484848" stroke-width="1.5" stroke-linejoin="round" stroke-linecap="round"/>
<path d="M851.8,815.8 C854.8,814.9 862.8,811.7 870.0,810.5 C877.2,809.3 890.8,808.9 895.0,808.6 L1180.2,809.3" fill="none" stroke="#484848" stroke-width="1.5" stroke-linejoin="round" stroke-linecap="round"/>
<path d="M1101.0,611.9 C1105.8,612.4 1117.8,612.6 1129.8,614.8 C1141.8,617.0 1164.3,621.3 1173.0,624.9 C1181.7,628.5 1180.2,634.5 1181.7,636.4" fill="none" stroke="#484848" stroke-width="1.5" stroke-linejoin="round" stroke-linecap="round"/>
<path d="M1101.0,833.1 C1105.8,832.6 1117.8,832.4 1129.8,830.2 C1141.8,828.0 1164.3,823.7 1173.0,820.1 C1181.7,816.5 1180.2,810.5 1181.7,808.6" fill="none" stroke="#484848" stroke-width="1.5" stroke-linejoin="round" stroke-linecap="round"/>
<path d="M1090.9,578.8 C1092.4,581.0 1097.3,586.7 1100.0,592.0 C1102.7,597.3 1105.7,607.4 1106.8,610.5" fill="none" stroke="#484848" stroke-width="1.5" stroke-linejoin="round" stroke-linecap="round"/>
<path d="M1090.9,866.2 C1092.4,864.0 1097.3,858.3 1100.0,853.0 C1102.7,847.7 1105.7,837.6 1106.8,834.5" fill="none" stroke="#484848" stroke-width="1.5" stroke-linejoin="round" stroke-linecap="round"/>
<path d="M1181.7,629.2 L1219.1,628.5" fill="none" stroke="#484848" stroke-width="1.5" stroke-linejoin="round" stroke-linecap="round"/>
<path d="M1181.7,815.8 L1219.1,816.5" fill="none" stroke="#484848" stroke-width="1.5" stroke-linejoin="round" stroke-linecap="round"/>
<path d="M1217.7,629.2 C1219.8,634.3 1226.9,649.2 1230.0,660.0 C1233.1,670.8 1235.2,683.6 1236.4,694.0 C1237.6,704.4 1236.9,717.8 1237.0,722.5" fill="none" stroke="#484848" stroke-width="1.2" stroke-linejoin="round" stroke-linecap="round"/>
<path d="M1217.7,815.8 C1219.8,810.7 1226.9,795.8 1230.0,785.0 C1233.1,774.2 1235.2,761.4 1236.4,751.0 C1237.6,740.6 1236.9,727.2 1237.0,722.5" fill="none" stroke="#484848" stroke-width="1.2" stroke-linejoin="round" stroke-linecap="round"/>
<path d="M1181.7,636.4 C1183.4,638.8 1189.3,641.9 1191.7,650.8 C1194.1,659.7 1194.9,678.0 1196.0,690.0 C1197.1,702.0 1197.8,717.1 1198.2,722.5" fill="none" stroke="#484848" stroke-width="1.5" stroke-linejoin="round" stroke-linecap="round"/>
<path d="M1181.7,808.6 C1183.4,806.2 1189.3,803.1 1191.7,794.2 C1194.1,785.3 1194.9,767.0 1196.0,755.0 C1197.1,743.0 1197.8,727.9 1198.2,722.5" fill="none" stroke="#484848" stroke-width="1.5" stroke-linejoin="round" stroke-linecap="round"/>
<path d="M928.2,582.5 L931.1,592.5" fill="none" stroke="#484848" stroke-width="1.2" stroke-linejoin="round" stroke-linecap="round"/>
<path d="M928.2,862.5 L931.1,852.5" fill="none" stroke="#484848" stroke-width="1.2" stroke-linejoin="round" stroke-linecap="round"/>
<path d="M1132,636.4 L1132,808.6" fill="none" stroke="#484848" stroke-width="1.5" stroke-linejoin="round" stroke-linecap="round"/>
<path d="M540.8,722.5 C541.1,718.8 541.7,707.1 542.5,700.0 C543.3,692.9 544.5,686.3 545.5,680.0 C546.5,673.7 547.4,668.2 548.6,662.4 C549.8,656.6 551.0,650.7 552.5,645.0 C554.0,639.3 555.3,633.5 557.7,628.2 C560.1,622.9 563.2,617.5 567.0,613.0 C570.8,608.5 575.7,604.8 580.5,601.0 C585.3,597.2 590.3,593.7 596.0,590.5 C601.7,587.3 605.8,583.9 614.6,581.6 C623.4,579.4 634.5,577.9 648.7,577.0 C662.9,576.1 685.4,576.3 700.0,576.3 C714.6,576.3 730.5,576.7 736.6,576.8 L753.9,580.9 L1011.7,581.0 C1013.1,580.7 1017.1,579.7 1020.0,579.0 C1022.9,578.3 1027.5,577.0 1029.0,576.6 L1148.5,576.6 C1153.8,577.7 1171.3,580.2 1180.2,583.1 C1189.1,586.0 1194.6,586.3 1201.8,594.0 C1209.0,601.7 1217.4,614.9 1223.4,629.2 C1229.4,643.5 1234.8,664.1 1237.8,679.6 C1240.8,695.1 1240.8,715.4 1241.4,722.5 C1240.8,729.6 1240.8,749.9 1237.8,765.4 C1234.8,780.9 1229.4,801.5 1223.4,815.8 C1217.4,830.1 1209.0,843.3 1201.8,851.0 C1194.6,858.7 1189.1,859.0 1180.2,861.9 C1171.3,864.8 1153.8,867.3 1148.5,868.4 L1029.0,868.4 C1027.5,868.0 1022.9,866.7 1020.0,866.0 C1017.1,865.3 1013.1,864.3 1011.7,864.0 L753.9,864.1 L736.6,868.2 C730.5,868.3 714.6,868.7 700.0,868.7 C685.4,868.7 662.9,868.9 648.7,868.0 C634.5,867.1 623.4,865.6 614.6,863.4 C605.8,861.1 601.7,857.7 596.0,854.5 C590.3,851.3 585.3,847.8 580.5,844.0 C575.7,840.2 570.8,836.5 567.0,832.0 C563.2,827.5 560.1,822.1 557.7,816.8 C555.3,811.5 554.0,805.7 552.5,800.0 C551.0,794.3 549.8,788.4 548.6,782.6 C547.4,776.8 546.5,771.3 545.5,765.0 C544.5,758.7 543.3,752.1 542.5,745.0 C541.7,737.9 541.1,726.2 540.8,722.5 Z" fill="none" stroke="#0d0d0d" stroke-width="3.7" stroke-linejoin="round" stroke-linecap="round"/></g>
<g id="car-front"><path d="M167.3,767.9 L167.3,853.6 Q167.3,866.5 179.0,866.5 L213.5,866.5 Q224.9,866.5 224.9,853.6 L225.5,824.2" fill="none" stroke="#b4b4b4" stroke-width="1.4" stroke-linejoin="round" stroke-linecap="round"/>
<path d="M502.7,767.9 L502.7,853.6 Q502.7,866.5 491.0,866.5 L456.5,866.5 Q445.1,866.5 445.1,853.6 L444.5,824.2" fill="none" stroke="#b4b4b4" stroke-width="1.4" stroke-linejoin="round" stroke-linecap="round"/>
<path d="M225.5,828.0 L225.5,836.0 Q225.8,841.5 231.0,841.5 Q237.5,841.5 237.6,835.0 L237.7,824.2" fill="none" stroke="#b4b4b4" stroke-width="1.4" stroke-linejoin="round" stroke-linecap="round"/>
<path d="M444.5,828.0 L444.5,836.0 Q444.2,841.5 439.0,841.5 Q432.5,841.5 432.4,835.0 L432.3,824.2" fill="none" stroke="#b4b4b4" stroke-width="1.4" stroke-linejoin="round" stroke-linecap="round"/>
<path d="M180.0,671.5 L189.5,680.5 L194.5,672.5 L187.5,667.0 Z" fill="#e2e2e2" stroke="#484848" stroke-width="1.1" stroke-linejoin="round" stroke-linecap="round"/>
<path d="M490.0,671.5 L480.5,680.5 L475.5,672.5 L482.5,667.0 Z" fill="#e2e2e2" stroke="#484848" stroke-width="1.1" stroke-linejoin="round" stroke-linecap="round"/>
<path d="M185.2,642.5 C186.6,643.2 192.1,644.7 193.7,646.8 C195.3,648.9 195.3,652.1 194.8,655.3 C194.3,658.5 193.5,663.9 190.5,666.0 C187.5,668.1 181.5,668.5 176.7,668.1 C171.9,667.8 164.5,665.7 161.7,663.9 C158.9,662.1 159.4,660.0 160.1,657.5 C160.8,655.0 161.8,651.4 166.0,648.9 C170.2,646.4 182.0,643.6 185.2,642.5" fill="#e4e4e4" stroke="#3a3a3a" stroke-width="1.3" stroke-linejoin="round" stroke-linecap="round"/>
<path d="M484.8,642.5 C483.4,643.2 477.9,644.7 476.3,646.8 C474.7,648.9 474.7,652.1 475.2,655.3 C475.7,658.5 476.5,663.9 479.5,666.0 C482.5,668.1 488.5,668.5 493.3,668.1 C498.1,667.8 505.5,665.7 508.3,663.9 C511.1,662.1 510.6,660.0 509.9,657.5 C509.2,655.0 508.2,651.4 504.0,648.9 C499.8,646.4 488.0,643.6 484.8,642.5" fill="#e4e4e4" stroke="#3a3a3a" stroke-width="1.3" stroke-linejoin="round" stroke-linecap="round"/>
<path d="M160.6,660.0 C163.0,660.5 170.1,662.7 175.0,663.0 C179.9,663.3 186.8,663.3 190.0,662.0 C193.2,660.7 193.3,656.2 194.0,655.0" fill="none" stroke="#3a3a3a" stroke-width="1.1" stroke-linejoin="round" stroke-linecap="round"/>
<path d="M509.4,660.0 C507.0,660.5 499.9,662.7 495.0,663.0 C490.1,663.3 483.2,663.3 480.0,662.0 C476.8,660.7 476.7,656.2 476.0,655.0" fill="none" stroke="#3a3a3a" stroke-width="1.1" stroke-linejoin="round" stroke-linecap="round"/>
<path d="M203.3,666.0 C214.4,665.6 248.1,664.0 270.0,663.5 C291.9,663.0 313.3,662.8 335.0,662.8 C356.7,662.8 378.1,663.0 400.0,663.5 C421.9,664.0 455.6,665.6 466.7,666.0 L475.2,670.3 C477.3,673.8 483.7,685.7 488.0,691.6 C492.3,697.5 498.3,699.8 500.8,705.5 C503.3,711.2 502.8,715.9 502.8,725.6 C502.8,735.4 502.0,750.1 500.8,764.0 C499.6,777.9 497.4,799.4 495.7,808.8 C494.0,818.2 493.2,817.8 490.6,820.4 C488.0,823.0 481.8,823.6 480.0,824.2 L190.0,824.2 C188.2,823.6 182.0,823.0 179.4,820.4 C176.8,817.8 176.0,818.2 174.3,808.8 C172.6,799.4 170.4,777.9 169.2,764.0 C168.0,750.1 167.2,735.4 167.2,725.6 C167.2,715.9 166.7,711.2 169.2,705.5 C171.7,699.8 177.7,697.5 182.0,691.6 C186.3,685.7 192.7,673.8 194.8,670.3 L203.3,666.0 Z" fill="#f1f2f4" stroke="none" stroke-width="0" stroke-linejoin="round" stroke-linecap="round"/>
<path d="M244.9,600.9 L425.1,600.9" fill="none" stroke="#2e2e2e" stroke-width="1.5" stroke-linejoin="round" stroke-linecap="round"/>
<path d="M238.5,601.0 C236.1,606.2 229.1,621.2 224.0,632.0 C218.9,642.8 210.8,659.9 208.1,665.5" fill="none" stroke="#2e2e2e" stroke-width="1.4" stroke-linejoin="round" stroke-linecap="round"/>
<path d="M431.5,601.0 C433.9,606.2 440.9,621.2 446.0,632.0 C451.1,642.8 459.2,659.9 461.9,665.5" fill="none" stroke="#2e2e2e" stroke-width="1.4" stroke-linejoin="round" stroke-linecap="round"/>
<path d="M240.5,600.0 L246.5,584.0" fill="none" stroke="#2e2e2e" stroke-width="1.2" stroke-linejoin="round" stroke-linecap="round"/>
<path d="M429.5,600.0 L423.5,584.0" fill="none" stroke="#2e2e2e" stroke-width="1.2" stroke-linejoin="round" stroke-linecap="round"/>
<path d="M245.0,600.9 L251.5,584.5" fill="none" stroke="#2e2e2e" stroke-width="1.2" stroke-linejoin="round" stroke-linecap="round"/>
<path d="M425.0,600.9 L418.5,584.5" fill="none" stroke="#2e2e2e" stroke-width="1.2" stroke-linejoin="round" stroke-linecap="round"/>
<path d="M203.3,666 C240,664.5 300,662.8 335,662.8 C370,662.8 430,664.5 466.7,666" fill="none" stroke="#2e2e2e" stroke-width="1.6" stroke-linejoin="round" stroke-linecap="round"/>
<path d="M181.4,701.3 C181.5,704.9 181.1,718.3 182.0,723.0 C182.9,727.7 179.8,727.7 187.1,729.4 C194.3,731.1 218.2,733.3 225.5,733.3 C232.8,733.3 228.3,733.2 230.7,729.4 C233.0,725.5 237.9,715.1 239.6,710.2 C241.3,705.3 241.5,704.9 240.9,700.0 C240.3,695.1 239.2,686.1 236.0,681.0 C232.8,675.9 227.0,671.9 222.0,669.5 C217.0,667.1 208.7,667.0 206.0,666.5" fill="none" stroke="#2e2e2e" stroke-width="1.4" stroke-linejoin="round" stroke-linecap="round"/>
<path d="M488.6,701.3 C488.5,704.9 488.9,718.3 488.0,723.0 C487.1,727.7 490.1,727.7 482.9,729.4 C475.6,731.1 451.8,733.3 444.5,733.3 C437.2,733.3 441.7,733.2 439.3,729.4 C436.9,725.5 432.1,715.1 430.4,710.2 C428.7,705.3 428.5,704.9 429.1,700.0 C429.7,695.1 430.9,686.1 434.0,681.0 C437.1,675.9 443.0,671.9 448.0,669.5 C453.0,667.1 461.3,667.0 464.0,666.5" fill="none" stroke="#2e2e2e" stroke-width="1.4" stroke-linejoin="round" stroke-linecap="round"/>
<path d="M181.0,698.5 C184.7,699.8 192.0,703.7 203.3,706.0 C214.6,708.3 241.1,711.4 248.6,712.5" fill="none" stroke="#2e2e2e" stroke-width="1.4" stroke-linejoin="round" stroke-linecap="round"/>
<path d="M489.0,698.5 C485.3,699.8 478.0,703.7 466.7,706.0 C455.4,708.3 428.9,711.4 421.4,712.5" fill="none" stroke="#2e2e2e" stroke-width="1.4" stroke-linejoin="round" stroke-linecap="round"/>
<path d="M255,707.7 L415,707.7 Q421.4,708.5 421.4,714 L421.4,735.9 L404.8,751.2 Q401,754.4 397,754.4 L273,754.4 Q269,754.4 265.2,751.2 L248.6,735.9 L248.6,714 Q248.6,708.5 255,707.7 Z" fill="#fff" stroke="#2e2e2e" stroke-width="1.4" stroke-linejoin="round" stroke-linecap="round"/>
<path d="M170.5,748.7 C179.9,749.8 214.9,753.4 226.8,755.5 C238.8,757.6 236.3,760.4 242.2,761.5 C248.1,762.6 258.7,762.0 262.0,762.1 L408.0,762.1 C411.3,762.0 421.9,762.6 427.8,761.5 C433.7,760.4 431.2,757.6 443.2,755.5 C455.1,753.4 490.1,749.8 499.5,748.7" fill="none" stroke="#2e2e2e" stroke-width="1.4" stroke-linejoin="round" stroke-linecap="round"/>
<path d="M184.6,774.5 C188.0,774.5 197.5,773.5 205.0,774.5 C212.5,775.5 225.3,779.7 229.4,780.7 L216.6,795.4 C213.8,795.4 204.9,795.4 200.0,795.3 C195.1,795.2 189.8,796.5 187.1,794.8 C184.4,793.1 184.4,788.4 184.0,785.0 C183.6,781.6 184.5,776.2 184.6,774.5" fill="none" stroke="#2e2e2e" stroke-width="1.4" stroke-linejoin="round" stroke-linecap="round"/>
<path d="M485.4,774.5 C482.0,774.5 472.5,773.5 465.0,774.5 C457.5,775.5 444.7,779.7 440.6,780.7 L453.4,795.4 C456.2,795.4 465.1,795.4 470.0,795.3 C474.9,795.2 480.2,796.5 482.9,794.8 C485.6,793.1 485.6,788.4 486.0,785.0 C486.4,781.6 485.5,776.2 485.4,774.5" fill="none" stroke="#2e2e2e" stroke-width="1.4" stroke-linejoin="round" stroke-linecap="round"/>
<path d="M237.1,801.2 L253,785 Q255,783.2 259,783.2 L411,783.2 Q415,783.2 417,785 L432.9,801.2 Z" fill="none" stroke="#2e2e2e" stroke-width="1.4" stroke-linejoin="round" stroke-linecap="round"/>
<path d="M174.3,796.0 C176.2,797.0 176.7,800.4 185.9,801.8 C195.1,803.2 221.3,804.3 229.4,804.4 C237.5,804.5 233.7,802.7 234.5,802.4" fill="none" stroke="#2e2e2e" stroke-width="1.4" stroke-linejoin="round" stroke-linecap="round"/>
<path d="M495.7,796.0 C493.8,797.0 493.3,800.4 484.1,801.8 C474.9,803.2 448.7,804.3 440.6,804.4 C432.5,804.5 436.4,802.7 435.5,802.4" fill="none" stroke="#2e2e2e" stroke-width="1.4" stroke-linejoin="round" stroke-linecap="round"/>
<path d="M230,823.5 C232,814 237,807.6 252.4,806.3 L417.6,806.3 C433,807.6 438,814 440,823.5" fill="none" stroke="#2e2e2e" stroke-width="1.4" stroke-linejoin="round" stroke-linecap="round"/>
<path d="M335.0,583.2 C329.2,583.4 312.7,583.5 300.0,584.3 C287.3,585.1 265.7,587.5 258.8,588.1 C258.3,587.5 257.1,585.5 256.0,584.5 C254.9,583.5 253.7,582.3 252.0,581.8 C250.3,581.3 247.7,581.2 246.0,581.5 C244.3,581.8 243.0,582.2 242.0,583.5 C241.0,584.8 240.5,588.1 240.2,589.0 C238.8,590.1 234.3,593.4 232.1,595.6 C229.9,597.8 228.9,598.4 226.8,602.0 C224.7,605.6 224.6,605.6 219.3,617.0 C214.0,628.4 201.0,657.9 194.8,670.3 C188.6,682.7 186.3,685.7 182.0,691.6 C177.7,697.5 171.7,699.8 169.2,705.5 C166.7,711.2 167.2,715.9 167.2,725.6 C167.2,735.4 168.0,750.1 169.2,764.0 C170.4,777.9 172.6,799.4 174.3,808.8 C176.0,818.2 176.8,817.8 179.4,820.4 C182.0,823.0 188.2,823.6 190.0,824.2 L335.0,824.2" fill="none" stroke="#0d0d0d" stroke-width="3.7" stroke-linejoin="round" stroke-linecap="round"/>
<path d="M335.0,583.2 C340.8,583.4 357.3,583.5 370.0,584.3 C382.7,585.1 404.3,587.5 411.2,588.1 C411.7,587.5 412.9,585.5 414.0,584.5 C415.1,583.5 416.3,582.3 418.0,581.8 C419.7,581.3 422.3,581.2 424.0,581.5 C425.7,581.8 427.0,582.2 428.0,583.5 C429.0,584.8 429.5,588.1 429.8,589.0 C431.1,590.1 435.7,593.4 437.9,595.6 C440.1,597.8 441.1,598.4 443.2,602.0 C445.3,605.6 445.4,605.6 450.7,617.0 C456.0,628.4 469.0,657.9 475.2,670.3 C481.4,682.7 483.7,685.7 488.0,691.6 C492.3,697.5 498.3,699.8 500.8,705.5 C503.3,711.2 502.8,715.9 502.8,725.6 C502.8,735.4 502.0,750.1 500.8,764.0 C499.6,777.9 497.4,799.4 495.7,808.8 C494.0,818.2 493.2,817.8 490.6,820.4 C488.0,823.0 481.8,823.6 480.0,824.2 L335.0,824.2" fill="none" stroke="#0d0d0d" stroke-width="3.7" stroke-linejoin="round" stroke-linecap="round"/>
<path d="M240.0,588.0 L239.4,601.5" fill="none" stroke="#0d0d0d" stroke-width="3.2" stroke-linejoin="round" stroke-linecap="round"/>
<path d="M430.0,588.0 L430.6,601.5" fill="none" stroke="#0d0d0d" stroke-width="3.2" stroke-linejoin="round" stroke-linecap="round"/></g>
<g id="car-rear"><path d="M1274.6,767.6 L1275.2,863.6 Q1275.5,874.5 1286.8,874.5 L1322.6,874.5 Q1334.0,874.5 1334.1,863.6 L1334.8,827.8" fill="none" stroke="#b4b4b4" stroke-width="1.4" stroke-linejoin="round" stroke-linecap="round"/>
<path d="M1621.4,767.6 L1620.8,863.6 Q1620.5,874.5 1609.2,874.5 L1573.4,874.5 Q1562.0,874.5 1561.9,863.6 L1561.2,827.8" fill="none" stroke="#b4b4b4" stroke-width="1.4" stroke-linejoin="round" stroke-linecap="round"/>
<path d="M1335.0,829.0 L1335.4,843.0 Q1336.0,849.0 1341.5,849.0 Q1347.0,849.0 1347.0,843.0 L1347.0,829.1" fill="none" stroke="#b4b4b4" stroke-width="1.4" stroke-linejoin="round" stroke-linecap="round"/>
<path d="M1561.0,829.0 L1560.6,843.0 Q1560.0,849.0 1554.5,849.0 Q1549.0,849.0 1549.0,843.0 L1549.0,829.1" fill="none" stroke="#b4b4b4" stroke-width="1.4" stroke-linejoin="round" stroke-linecap="round"/>
<ellipse cx="1290.5" cy="657.4" rx="16.5" ry="14" fill="#f4f4f4" stroke="#444" stroke-width="1.3"/>
<ellipse cx="1605.5" cy="657.4" rx="16.5" ry="14" fill="#f4f4f4" stroke="#444" stroke-width="1.3"/>
<path d="M1325.3,620.2 L1570.7,620.2 L1576.4,624.2 C1579.8,631.4 1592.2,659.5 1596.9,667.4 C1601.6,675.3 1602.7,670.3 1604.8,671.9 C1606.9,673.5 1607.7,673.9 1609.4,677.1 C1611.1,680.3 1613.4,686.7 1615.1,691.3 C1616.8,695.9 1618.5,700.4 1619.6,704.9 C1620.7,709.4 1621.4,712.9 1621.8,718.0 C1622.2,723.1 1622.6,727.3 1622.0,735.6 C1621.4,743.9 1620.3,756.9 1618.2,767.6 C1616.1,778.3 1612.4,791.5 1609.2,799.6 C1606.0,807.7 1602.5,811.8 1599.0,816.0 C1595.5,820.2 1592.2,823.1 1588.0,825.0 C1583.8,826.9 1576.3,827.2 1574.0,827.6 L1322.0,827.6 C1319.7,827.2 1312.2,826.9 1308.0,825.0 C1303.8,823.1 1300.5,820.2 1297.0,816.0 C1293.5,811.8 1290.0,807.7 1286.8,799.6 C1283.6,791.5 1279.9,778.3 1277.8,767.6 C1275.7,756.9 1274.6,743.9 1274.0,735.6 C1273.4,727.3 1273.8,723.1 1274.2,718.0 C1274.6,712.9 1275.3,709.4 1276.4,704.9 C1277.5,700.4 1279.2,695.9 1280.9,691.3 C1282.6,686.7 1284.9,680.3 1286.6,677.1 C1288.3,673.9 1289.1,673.5 1291.2,671.9 C1293.3,670.3 1294.4,675.3 1299.1,667.4 C1303.8,659.5 1316.2,631.4 1319.6,624.2 L1325.3,620.2 Z" fill="#f1f2f4" stroke="none" stroke-width="0" stroke-linejoin="round" stroke-linecap="round"/>
<path d="M1338.0,662.8 L1340.3,619.6 C1340.7,619.0 1339.8,618.6 1342.4,616.2 C1345.0,613.8 1346.4,607.4 1356.0,605.0 C1365.6,602.6 1384.7,602.6 1400.0,602.0 C1415.3,601.4 1432.0,601.4 1448.0,601.4 C1464.0,601.4 1480.7,601.4 1496.0,602.0 C1511.3,602.6 1530.4,602.6 1540.0,605.0 C1549.6,607.4 1551.0,613.8 1553.6,616.2 C1556.2,618.6 1555.3,619.0 1555.7,619.6 L1558.0,662.8 Z" fill="#fff" stroke="#2e2e2e" stroke-width="1.4" stroke-linejoin="round" stroke-linecap="round"/>
<path d="M1351.5,586.6 C1348.8,588.7 1339.0,593.4 1335.5,599.1 C1332.0,604.8 1332.2,613.1 1330.4,620.7 C1328.7,628.4 1326.6,638.2 1325.0,645.0 C1323.4,651.8 1322.2,658.0 1320.7,661.7 C1319.2,665.4 1320.2,665.5 1316.2,667.4 C1312.2,669.3 1300.1,672.1 1296.9,673.1" fill="none" stroke="#2e2e2e" stroke-width="1.4" stroke-linejoin="round" stroke-linecap="round"/>
<path d="M1544.5,586.6 C1547.2,588.7 1557.0,593.4 1560.5,599.1 C1564.0,604.8 1563.8,613.1 1565.6,620.7 C1567.3,628.4 1569.4,638.2 1571.0,645.0 C1572.6,651.8 1573.8,658.0 1575.3,661.7 C1576.8,665.4 1575.8,665.5 1579.8,667.4 C1583.8,669.3 1595.9,672.1 1599.1,673.1" fill="none" stroke="#2e2e2e" stroke-width="1.4" stroke-linejoin="round" stroke-linecap="round"/>
<path d="M1325.3,620.2 L1340.3,619.6" fill="none" stroke="#2e2e2e" stroke-width="1.3" stroke-linejoin="round" stroke-linecap="round"/>
<path d="M1570.7,620.2 L1555.7,619.6" fill="none" stroke="#2e2e2e" stroke-width="1.3" stroke-linejoin="round" stroke-linecap="round"/>
<path d="M1356,588.3 C1390,586.5 1420,585.5 1448,585.5 C1476,585.5 1506,586.5 1540,588.3" fill="none" stroke="#2e2e2e" stroke-width="1.4" stroke-linejoin="round" stroke-linecap="round"/>
<path d="M1338.0,662.8 C1337.0,666.4 1334.8,677.9 1332.1,684.5 C1329.3,691.1 1323.3,698.1 1321.5,702.7 C1319.7,707.3 1321.3,707.6 1321.5,712.0 C1321.7,716.4 1321.1,723.8 1322.8,729.2 C1324.5,734.6 1320.3,741.4 1331.6,744.6 C1342.9,747.8 1371.1,747.8 1390.5,748.4 C1409.9,749.0 1438.4,748.4 1448.0,748.4" fill="none" stroke="#2e2e2e" stroke-width="1.4" stroke-linejoin="round" stroke-linecap="round"/>
<path d="M1558.0,662.8 C1559.0,666.4 1561.2,677.9 1563.9,684.5 C1566.7,691.1 1572.7,698.1 1574.5,702.7 C1576.3,707.3 1574.7,707.6 1574.5,712.0 C1574.3,716.4 1574.9,723.8 1573.2,729.2 C1571.5,734.6 1575.7,741.4 1564.4,744.6 C1553.1,747.8 1524.9,747.8 1505.5,748.4 C1486.1,749.0 1457.6,748.4 1448.0,748.4" fill="none" stroke="#2e2e2e" stroke-width="1.4" stroke-linejoin="round" stroke-linecap="round"/>
<path d="M1337.8,678.8 L1558.2,678.8" fill="none" stroke="#2e2e2e" stroke-width="1.4" stroke-linejoin="round" stroke-linecap="round"/>
<path d="M1371,681 L1525,681 L1509,691.5 Q1505.5,693.6 1499,693.6 L1397,693.6 Q1390.5,693.6 1387,691.5 Z" fill="none" stroke="#2e2e2e" stroke-width="1.4" stroke-linejoin="round" stroke-linecap="round"/>
<path d="M1283.2,695.8 C1284.0,697.0 1281.5,702.0 1287.8,703.2 C1294.0,704.4 1315.2,703.2 1320.7,703.2 L1448.0,703.2" fill="none" stroke="#2e2e2e" stroke-width="1.4" stroke-linejoin="round" stroke-linecap="round"/>
<path d="M1612.8,695.8 C1612.0,697.0 1614.5,702.0 1608.2,703.2 C1602.0,704.4 1580.8,703.2 1575.3,703.2 L1448.0,703.2" fill="none" stroke="#2e2e2e" stroke-width="1.4" stroke-linejoin="round" stroke-linecap="round"/>
<path d="M1279.1,762.5 C1281.0,762.1 1274.4,760.6 1290.6,760.2 C1306.8,759.8 1361.8,760.0 1376.0,760.0 L1388.5,749.2" fill="none" stroke="#2e2e2e" stroke-width="1.4" stroke-linejoin="round" stroke-linecap="round"/>
<path d="M1616.9,762.5 C1615.0,762.1 1621.6,760.6 1605.4,760.2 C1589.2,759.8 1534.2,760.0 1520.0,760.0 L1507.5,749.2" fill="none" stroke="#2e2e2e" stroke-width="1.4" stroke-linejoin="round" stroke-linecap="round"/>
<path d="M1300.9,765.1 L1377.7,765.1 C1378.5,765.5 1380.7,764.8 1382.8,767.6 C1384.9,770.4 1387.6,779.1 1390.5,781.7 C1393.4,784.3 1398.4,782.8 1400.0,783.0 L1448.0,783.0" fill="none" stroke="#2e2e2e" stroke-width="1.4" stroke-linejoin="round" stroke-linecap="round"/>
<path d="M1595.1,765.1 L1518.3,765.1 C1517.5,765.5 1515.3,764.8 1513.2,767.6 C1511.1,770.4 1508.4,779.1 1505.5,781.7 C1502.6,784.3 1497.6,782.8 1496.0,783.0 L1448.0,783.0" fill="none" stroke="#2e2e2e" stroke-width="1.4" stroke-linejoin="round" stroke-linecap="round"/>
<path d="M1300.9,765.1 L1300.9,783.0 C1302.0,784.5 1302.5,790.0 1307.3,791.9 C1312.1,793.8 1326.2,794.1 1330.0,794.5 L1448.0,794.5" fill="none" stroke="#2e2e2e" stroke-width="1.4" stroke-linejoin="round" stroke-linecap="round"/>
<path d="M1595.1,765.1 L1595.1,783.0 C1594.0,784.5 1593.5,790.0 1588.7,791.9 C1583.9,793.8 1569.8,794.1 1566.0,794.5 L1448.0,794.5" fill="none" stroke="#2e2e2e" stroke-width="1.4" stroke-linejoin="round" stroke-linecap="round"/>
<path d="M1306.0,768.3 L1370.0,768.3 Q1373.0,770.5 1371.3,772.7 L1334.1,773.4 L1327.7,779.8 L1309.0,779.8 Q1306.0,779.5 1306.0,776.5 Z" fill="none" stroke="#2e2e2e" stroke-width="1.3" stroke-linejoin="round" stroke-linecap="round"/>
<path d="M1590.0,768.3 L1526.0,768.3 Q1523.0,770.5 1524.7,772.7 L1561.9,773.4 L1568.3,779.8 L1587.0,779.8 Q1590.0,779.5 1590.0,776.5 Z" fill="none" stroke="#2e2e2e" stroke-width="1.3" stroke-linejoin="round" stroke-linecap="round"/>
<path d="M1303.4,824.0 C1304.1,821.2 1305.2,810.9 1307.3,807.3 C1309.4,803.7 1314.7,803.1 1316.2,802.2 L1448.0,801.5" fill="none" stroke="#2e2e2e" stroke-width="1.4" stroke-linejoin="round" stroke-linecap="round"/>
<path d="M1592.6,824.0 C1591.9,821.2 1590.8,810.9 1588.7,807.3 C1586.6,803.7 1581.3,803.1 1579.8,802.2 L1448.0,801.5" fill="none" stroke="#2e2e2e" stroke-width="1.4" stroke-linejoin="round" stroke-linecap="round"/>
<path d="M1448.0,576.2 C1440.0,576.4 1414.9,576.7 1400.0,577.5 C1385.1,578.3 1365.4,580.4 1358.5,581.0 L1358.5,577.0 Q1358.5,573.8 1354.0,573.8 Q1349.5,573.8 1349.5,577.0 L1349.8,588.0 C1348.9,587.6 1347.0,585.0 1344.6,585.5 C1342.2,586.0 1338.2,588.4 1335.5,591.2 C1332.8,594.0 1331.4,597.0 1328.7,602.5 C1326.0,608.0 1324.5,613.4 1319.6,624.2 C1314.7,635.0 1303.8,659.5 1299.1,667.4 C1294.4,675.3 1293.3,670.3 1291.2,671.9 C1289.1,673.5 1288.3,673.9 1286.6,677.1 C1284.9,680.3 1282.6,686.7 1280.9,691.3 C1279.2,695.9 1277.5,700.4 1276.4,704.9 C1275.3,709.4 1274.6,712.9 1274.2,718.0 C1273.8,723.1 1273.4,727.3 1274.0,735.6 C1274.6,743.9 1275.7,756.9 1277.8,767.6 C1279.9,778.3 1283.6,791.5 1286.8,799.6 C1290.0,807.7 1293.5,811.8 1297.0,816.0 C1300.5,820.2 1303.8,823.1 1308.0,825.0 C1312.2,826.9 1319.7,827.2 1322.0,827.6 L1448.0,827.8" fill="none" stroke="#0d0d0d" stroke-width="3.7" stroke-linejoin="round" stroke-linecap="round"/>
<path d="M1448.0,576.2 C1456.0,576.4 1481.1,576.7 1496.0,577.5 C1510.9,578.3 1530.6,580.4 1537.5,581.0 L1537.5,577.0 Q1537.5,573.8 1542.0,573.8 Q1546.5,573.8 1546.5,577.0 L1546.2,588.0 C1547.1,587.6 1549.0,585.0 1551.4,585.5 C1553.8,586.0 1557.8,588.4 1560.5,591.2 C1563.2,594.0 1564.6,597.0 1567.3,602.5 C1570.0,608.0 1571.5,613.4 1576.4,624.2 C1581.3,635.0 1592.2,659.5 1596.9,667.4 C1601.6,675.3 1602.7,670.3 1604.8,671.9 C1606.9,673.5 1607.7,673.9 1609.4,677.1 C1611.1,680.3 1613.4,686.7 1615.1,691.3 C1616.8,695.9 1618.5,700.4 1619.6,704.9 C1620.7,709.4 1621.4,712.9 1621.8,718.0 C1622.2,723.1 1622.6,727.3 1622.0,735.6 C1621.4,743.9 1620.3,756.9 1618.2,767.6 C1616.1,778.3 1612.4,791.5 1609.2,799.6 C1606.0,807.7 1602.5,811.8 1599.0,816.0 C1595.5,820.2 1592.2,823.1 1588.0,825.0 C1583.8,826.9 1576.3,827.2 1574.0,827.6 L1448.0,827.8" fill="none" stroke="#0d0d0d" stroke-width="3.7" stroke-linejoin="round" stroke-linecap="round"/>
<path d="M1353.7,578.0 L1353.7,588.0" fill="none" stroke="#888" stroke-width="1" stroke-linejoin="round" stroke-linecap="round"/>
<path d="M1542.3,578.0 L1542.3,588.0" fill="none" stroke="#888" stroke-width="1" stroke-linejoin="round" stroke-linecap="round"/></g>
<rect x="806.6" y="362.9" width="29" height="29" rx="4.5" fill="#f09aab"/>
<path d="M821.4,384.1 V371.3 L818.0,374.5" fill="none" stroke="#ffffff" stroke-width="1.9" stroke-linejoin="round"/>
<rect x="1024.0" y="362.9" width="29" height="29" rx="4.5" fill="#4d8ef4"/>
<path d="M1038.8,384.1 V371.3 L1035.4,374.5" fill="none" stroke="#ffffff" stroke-width="1.9" stroke-linejoin="round"/>
<rect x="1140.8" y="431.0" width="29" height="29" rx="4.5" fill="#3358d3"/>
<text x="1155.3" y="452.2" font-size="19" fill="#ffffff" text-anchor="middle">2</text>
<rect x="666.0" y="709.9" width="29" height="29" rx="4.5" fill="#233f89"/>
<text x="680.5" y="731.1" font-size="19" fill="#ffffff" text-anchor="middle">2</text>
<rect x="912.2" y="709.9" width="29" height="29" rx="4.5" fill="#b91e4b"/>
<text x="926.7" y="731.1" font-size="19" fill="#ffffff" text-anchor="middle">2</text>
<rect x="1052.8" y="709.9" width="29" height="29" rx="4.5" fill="#3358d3"/>
<path d="M1067.6,731.1 V718.3 L1064.2,721.5" fill="none" stroke="#ffffff" stroke-width="1.9" stroke-linejoin="round"/>
<rect x="649.1" y="1042.2" width="29" height="29" rx="4.5" fill="#f09aab"/>
<path d="M663.9,1063.4 V1050.6 L660.5,1053.8" fill="none" stroke="#ffffff" stroke-width="1.9" stroke-linejoin="round"/>
<rect x="877.0" y="1057.0" width="29" height="29" rx="4.5" fill="#8ec3f9"/>
<path d="M891.8,1078.2 V1065.4 L888.4,1068.6" fill="none" stroke="#ffffff" stroke-width="1.9" stroke-linejoin="round"/>
<path d="M73.5,49.2 H89 A4.5,4.5 0 0 0 93.5,44.7 V43 A4.5,4.5 0 0 0 89,38.5 H75.5 A5.2,5.2 0 0 0 70.3,43.7 V54.099999999999994 A5.2,5.2 0 0 0 75.5,59.3 H94 M104.2,32 V59.3 M137,38.5 H117 A5,5 0 0 0 112,43.5 V44.2 A5,5 0 0 0 117,49.2 H132.2 A5,5 0 0 1 137.2,54.2 V54.3 A5,5 0 0 1 132.2,59.3 H114 M171,38.5 H152 A5.5,5.5 0 0 0 146.5,44.0 V53.8 A5.5,5.5 0 0 0 152,59.3 H171 M186.5,59.3 H208 M223.6,65.8 V38.5 M223.6,38.5 H244 A5.5,5.5 0 0 1 249.6,44.0 V53.8 A5.5,5.5 0 0 1 244,59.3 H223.6 M261.5,49.2 H279.5 A4.5,4.5 0 0 0 284,44.7 V43 A4.5,4.5 0 0 0 279.5,38.5 H264 A5.2,5.2 0 0 0 258.8,43.7 V54.099999999999994 A5.2,5.2 0 0 0 264,59.3 H282.5 M299,38.5 L311.6,59.5 L324.4,38.5 M332.8,38.5 V59.3 M374.8,38.5 V59.3 M365.6,38.5 H346.2 A5,5 0 0 0 341.2,43.5 V44.2 A5,5 0 0 0 346.2,49.2 H360.6 A5,5 0 0 1 365.6,54.2 V54.3 A5,5 0 0 1 360.6,59.3 H343 M389.5,38.5 H403.7 A6,6 0 0 1 409.7,44.5 V53.3 A6,6 0 0 1 403.7,59.3 H389.5 A6,6 0 0 1 383.5,53.3 V44.5 A6,6 0 0 1 389.5,38.5 Z M417.8,59.3 V44.5 A6,6 0 0 1 423.8,38.5 H437.6 A6,6 0 0 1 443.6,44.5 V59.3" fill="none" stroke="#f4f4f4" stroke-width="4.4" stroke-linecap="round" stroke-linejoin="round"/>
<path d="M179.2,59.3 V44.0 A5.5,5.5 0 0 1 184.7,38.5 H209.7 A5.5,5.5 0 0 1 215.2,44.0 V59.3" fill="none" stroke="#a9c746" stroke-width="4.4" stroke-linecap="round" stroke-linejoin="round"/>
<circle cx="332.8" cy="32" r="3.1" fill="#a9c746"/><circle cx="374.8" cy="32" r="3.1" fill="#a9c746"/>
<text x="1877.6" y="57.6" font-size="24.6" fill="#b7b4ad" textLength="51.0" lengthAdjust="spacingAndGlyphs">Scan</text>
<text x="2026.3" y="57.6" font-size="24.6" fill="#ffffff" textLength="77.5" lengthAdjust="spacingAndGlyphs">History</text>
<text x="2201.4" y="57.6" font-size="24.6" fill="#b7b4ad" textLength="76.6" lengthAdjust="spacingAndGlyphs">Setting</text>
<text x="34.8" y="137.6" font-size="21.8" fill="#4d5bc7" textLength="88.9" lengthAdjust="spacingAndGlyphs">Overview</text>
<text x="191.2" y="137.6" font-size="21.8" fill="#3d414b" textLength="53.1" lengthAdjust="spacingAndGlyphs">Detail</text>
<text x="313.0" y="137.6" font-size="21.8" fill="#3d414b" textLength="62.2" lengthAdjust="spacingAndGlyphs">Replay</text>
<text x="2391.0" y="136.0" font-size="18" fill="#9a9a9a" textLength="35.0" lengthAdjust="spacingAndGlyphs">Back</text>
<text x="1686.7" y="267.4" font-size="21.5" fill="#cf4d6f" font-weight="700" textLength="50.8" lengthAdjust="spacingAndGlyphs">Dent</text>
<path d="M1815.60,258.50 C1816.54,255.95 1820.87,250.00 1827.30,250.00 C1833.73,250.00 1838.06,255.95 1839.00,258.50 C1838.06,261.05 1833.73,267.00 1827.30,267.00 C1820.87,267.00 1816.54,261.05 1815.60,258.50 Z" fill="#9b9b9b"/>
<circle cx="1827.30" cy="258.50" r="3.65" fill="none" stroke="#fff" stroke-width="1.70"/>
<rect x="1684.6" y="294.0" width="32.4" height="31.5" rx="5.5" fill="#8a1a42"/>
<text x="1728.3" y="313.8" font-size="17.4" fill="#262626" font-weight="700" textLength="67.2" lengthAdjust="spacingAndGlyphs">Oversize</text>
<path d="M1815.90,307.60 C1816.57,305.71 1819.68,301.30 1824.30,301.30 C1828.92,301.30 1832.03,305.71 1832.70,307.60 C1832.03,309.49 1828.92,313.90 1824.30,313.90 C1819.68,313.90 1816.57,309.49 1815.90,307.60 Z" fill="#cfcfcf"/>
<circle cx="1824.30" cy="307.60" r="2.71" fill="none" stroke="#fff" stroke-width="1.26"/>
<rect x="1684.6" y="343.0" width="32.4" height="31.5" rx="5.5" fill="#b91e4b"/>
<text x="1728.3" y="362.8" font-size="17.4" fill="#262626" font-weight="700" textLength="51.7" lengthAdjust="spacingAndGlyphs">Severe</text>
<path d="M1815.90,356.60 C1816.57,354.71 1819.68,350.30 1824.30,350.30 C1828.92,350.30 1832.03,354.71 1832.70,356.60 C1832.03,358.49 1828.92,362.90 1824.30,362.90 C1819.68,362.90 1816.57,358.49 1815.90,356.60 Z" fill="#cfcfcf"/>
<circle cx="1824.30" cy="356.60" r="2.71" fill="none" stroke="#fff" stroke-width="1.26"/>
<rect x="1684.6" y="392.0" width="32.4" height="31.5" rx="5.5" fill="#e8476b"/>
<text x="1728.3" y="411.8" font-size="17.4" fill="#262626" font-weight="700" textLength="49.4" lengthAdjust="spacingAndGlyphs">Heavy</text>
<path d="M1815.90,405.60 C1816.57,403.71 1819.68,399.30 1824.30,399.30 C1828.92,399.30 1832.03,403.71 1832.70,405.60 C1832.03,407.49 1828.92,411.90 1824.30,411.90 C1819.68,411.90 1816.57,407.49 1815.90,405.60 Z" fill="#cfcfcf"/>
<circle cx="1824.30" cy="405.60" r="2.71" fill="none" stroke="#fff" stroke-width="1.26"/>
<rect x="1684.6" y="440.4" width="32.4" height="31.5" rx="5.5" fill="#f3a6b6"/>
<text x="1728.3" y="460.2" font-size="17.4" fill="#262626" font-weight="700" textLength="66.1" lengthAdjust="spacingAndGlyphs">Medium</text>
<path d="M1815.90,454.00 C1816.57,452.11 1819.68,447.70 1824.30,447.70 C1828.92,447.70 1832.03,452.11 1832.70,454.00 C1832.03,455.89 1828.92,460.30 1824.30,460.30 C1819.68,460.30 1816.57,455.89 1815.90,454.00 Z" fill="#cfcfcf"/>
<circle cx="1824.30" cy="454.00" r="2.71" fill="none" stroke="#fff" stroke-width="1.26"/>
<rect x="1684.6" y="489.4" width="32.4" height="31.5" rx="5.5" fill="#fbe2e7"/>
<text x="1728.3" y="509.2" font-size="17.4" fill="#262626" font-weight="700" textLength="43.3" lengthAdjust="spacingAndGlyphs">Small</text>
<path d="M1815.90,503.00 C1816.57,501.11 1819.68,496.70 1824.30,496.70 C1828.92,496.70 1832.03,501.11 1832.70,503.00 C1832.03,504.89 1828.92,509.30 1824.30,509.30 C1819.68,509.30 1816.57,504.89 1815.90,503.00 Z" fill="#cfcfcf"/>
<circle cx="1824.30" cy="503.00" r="2.71" fill="none" stroke="#fff" stroke-width="1.26"/>
<text x="1686.7" y="1017.4" font-size="21.5" fill="#5a8fe0" font-weight="700" textLength="77.3" lengthAdjust="spacingAndGlyphs">Scratch</text>
<path d="M1815.60,1008.50 C1816.54,1005.95 1820.87,1000.00 1827.30,1000.00 C1833.73,1000.00 1838.06,1005.95 1839.00,1008.50 C1838.06,1011.05 1833.73,1017.00 1827.30,1017.00 C1820.87,1017.00 1816.54,1011.05 1815.60,1008.50 Z" fill="#9b9b9b"/>
<circle cx="1827.30" cy="1008.50" r="3.65" fill="none" stroke="#fff" stroke-width="1.70"/>
<rect x="1684.6" y="1043.0" width="32.4" height="31.5" rx="5.5" fill="#233f89"/>
<text x="1728.3" y="1062.8" font-size="17.4" fill="#262626" font-weight="700" textLength="67.2" lengthAdjust="spacingAndGlyphs">Oversize</text>
<path d="M1815.90,1056.60 C1816.57,1054.71 1819.68,1050.30 1824.30,1050.30 C1828.92,1050.30 1832.03,1054.71 1832.70,1056.60 C1832.03,1058.49 1828.92,1062.90 1824.30,1062.90 C1819.68,1062.90 1816.57,1058.49 1815.90,1056.60 Z" fill="#cfcfcf"/>
<circle cx="1824.30" cy="1056.60" r="2.71" fill="none" stroke="#fff" stroke-width="1.26"/>
<rect x="1684.6" y="1091.8" width="32.4" height="31.5" rx="5.5" fill="#3358d3"/>
<text x="1728.3" y="1111.6" font-size="17.4" fill="#262626" font-weight="700" textLength="51.7" lengthAdjust="spacingAndGlyphs">Severe</text>
<path d="M1815.90,1105.40 C1816.57,1103.51 1819.68,1099.10 1824.30,1099.10 C1828.92,1099.10 1832.03,1103.51 1832.70,1105.40 C1832.03,1107.29 1828.92,1111.70 1824.30,1111.70 C1819.68,1111.70 1816.57,1107.29 1815.90,1105.40 Z" fill="#cfcfcf"/>
<circle cx="1824.30" cy="1105.40" r="2.71" fill="none" stroke="#fff" stroke-width="1.26"/>
<rect x="1684.6" y="1140.8" width="32.4" height="31.5" rx="5.5" fill="#4d8ef4"/>
<text x="1728.3" y="1160.6" font-size="17.4" fill="#262626" font-weight="700" textLength="49.4" lengthAdjust="spacingAndGlyphs">Heavy</text>
<path d="M1815.90,1154.40 C1816.57,1152.51 1819.68,1148.10 1824.30,1148.10 C1828.92,1148.10 1832.03,1152.51 1832.70,1154.40 C1832.03,1156.29 1828.92,1160.70 1824.30,1160.70 C1819.68,1160.70 1816.57,1156.29 1815.90,1154.40 Z" fill="#cfcfcf"/>
<circle cx="1824.30" cy="1154.40" r="2.71" fill="none" stroke="#fff" stroke-width="1.26"/>
<rect x="1684.6" y="1189.3" width="32.4" height="31.5" rx="5.5" fill="#92c4f8"/>
<text x="1728.3" y="1209.1" font-size="17.4" fill="#262626" font-weight="700" textLength="66.1" lengthAdjust="spacingAndGlyphs">Medium</text>
<path d="M1815.90,1202.90 C1816.57,1201.01 1819.68,1196.60 1824.30,1196.60 C1828.92,1196.60 1832.03,1201.01 1832.70,1202.90 C1832.03,1204.79 1828.92,1209.20 1824.30,1209.20 C1819.68,1209.20 1816.57,1204.79 1815.90,1202.90 Z" fill="#cfcfcf"/>
<circle cx="1824.30" cy="1202.90" r="2.71" fill="none" stroke="#fff" stroke-width="1.26"/>
<rect x="1684.6" y="1238.2" width="32.4" height="31.5" rx="5.5" fill="#d3e5fb"/>
<text x="1728.3" y="1258.0" font-size="17.4" fill="#262626" font-weight="700" textLength="43.3" lengthAdjust="spacingAndGlyphs">Small</text>
<path d="M1815.90,1251.80 C1816.57,1249.91 1819.68,1245.50 1824.30,1245.50 C1828.92,1245.50 1832.03,1249.91 1832.70,1251.80 C1832.03,1253.69 1828.92,1258.10 1824.30,1258.10 C1819.68,1258.10 1816.57,1253.69 1815.90,1251.80 Z" fill="#cfcfcf"/>
<circle cx="1824.30" cy="1251.80" r="2.71" fill="none" stroke="#fff" stroke-width="1.26"/>
<text x="2034.0" y="209.0" font-size="24.2" fill="#222222" textLength="128.0" lengthAdjust="spacingAndGlyphs">Vehicle Info</text>
<text x="2033.5" y="275.2" font-size="16.4" fill="#555555" textLength="74.3" lengthAdjust="spacingAndGlyphs">Order No.</text>
<text x="2033.5" y="319.0" font-size="19.5" fill="#444444" font-weight="700" textLength="151.1" lengthAdjust="spacingAndGlyphs">20231204093543</text>
<text x="2033.5" y="356.0" font-size="16.4" fill="#555555" textLength="27.3" lengthAdjust="spacingAndGlyphs">VIN</text>
<text x="2034.0" y="399.5" font-size="19.5" fill="#444444" font-weight="700" textLength="12.0" lengthAdjust="spacingAndGlyphs">--</text>
<text x="2033.5" y="436.4" font-size="16.4" fill="#555555" textLength="64.7" lengthAdjust="spacingAndGlyphs">Car Type</text>
<text x="2033.8" y="480.6" font-size="19.5" fill="#444444" font-weight="700" textLength="57.6" lengthAdjust="spacingAndGlyphs">Sedan</text>
<text x="2033.8" y="518.0" font-size="16.4" fill="#555555" textLength="96.2" lengthAdjust="spacingAndGlyphs">License plate</text>
<text x="2033.8" y="559.6" font-size="19.5" fill="#444444" font-weight="700" textLength="62.9" lengthAdjust="spacingAndGlyphs">04ASG</text>
<text x="2033.8" y="597.8" font-size="16.4" fill="#555555" textLength="106.4" lengthAdjust="spacingAndGlyphs">Scanning time</text>
<text x="2033.8" y="640.9" font-size="19.5" fill="#444444" font-weight="700" textLength="154.2" lengthAdjust="spacingAndGlyphs">2023-12-04 09:35</text>
<text x="2033.8" y="688.5" font-size="16.4" fill="#555555" textLength="69.7" lengthAdjust="spacingAndGlyphs">Car Color</text>
<text x="2033.8" y="731.3" font-size="19.5" fill="#444444" font-weight="700" textLength="52.0" lengthAdjust="spacingAndGlyphs">White</text>
<circle cx="2417" cy="687" r="17" fill="#666666"/>
<path d="M2408.5,695.5 L2410,690 L2421.5,678.5 A1.5,1.5 0 0 1 2423.6,678.5 L2425.5,680.4 A1.5,1.5 0 0 1 2425.5,682.5 L2414,694 Z" fill="#ffffff"/>
<path d="M2411.2,689.2 L2415,693" stroke="#666" stroke-width="1"/>
<text x="2398.5" y="727.0" font-size="16.4" fill="#333333" textLength="27.5" lengthAdjust="spacingAndGlyphs">Edit</text>
<text x="2034.0" y="850.2" font-size="24.2" fill="#222222" textLength="51.8" lengthAdjust="spacingAndGlyphs">Total</text>
<text x="2034.0" y="899.3" font-size="17.4" fill="#cf4d6d" font-weight="700" textLength="37.7" lengthAdjust="spacingAndGlyphs">Dent</text>
<text x="2210.4" y="899.3" font-size="17.4" fill="#222222" font-weight="700" textLength="9.3" lengthAdjust="spacingAndGlyphs">4</text>
<text x="2250.4" y="899.3" font-size="17.4" fill="#5889d9" font-weight="700" textLength="58.1" lengthAdjust="spacingAndGlyphs">Scratch</text>
<text x="2440.0" y="899.3" font-size="17.4" fill="#222222" font-weight="700" textLength="9.3" lengthAdjust="spacingAndGlyphs">7</text>
<rect x="2033.3" y="913.4" width="81.4" height="30.2" rx="5" fill="#fce3e9"/>
<text x="2041.0" y="935.4" font-size="17" fill="#c87aa6" textLength="66.5" lengthAdjust="spacingAndGlyphs">Standard</text>
<rect x="2250.4" y="913.4" width="81.2" height="30.2" rx="5" fill="#d7e8fc"/>
<text x="2257.5" y="935.4" font-size="17" fill="#6d9bdc" textLength="66.5" lengthAdjust="spacingAndGlyphs">Standard</text>
<line x1="2233" y1="878" x2="2233" y2="1120" stroke="#d6d6d6" stroke-width="1" stroke-dasharray="2,3"/>
<rect x="2033.3" y="955.9" width="19.2" height="18.5" rx="5" fill="#8a1a42"/>
<text x="2060.7" y="972.3" font-size="17.2" fill="#444444" textLength="63.5" lengthAdjust="spacingAndGlyphs">Oversize</text>
<text x="2220.2" y="972.5" font-size="17.5" fill="#444444" text-anchor="end">0</text>
<rect x="2250.4" y="955.9" width="19.2" height="18.5" rx="5" fill="#233f89"/>
<text x="2277.3" y="972.3" font-size="17.2" fill="#444444" textLength="63.5" lengthAdjust="spacingAndGlyphs">Oversize</text>
<text x="2450" y="972.5" font-size="17.5" fill="#444444" text-anchor="end">1</text>
<rect x="2033.3" y="988.9" width="19.2" height="18.5" rx="5" fill="#b91e4b"/>
<text x="2060.7" y="1005.3" font-size="17.2" fill="#444444" textLength="49.3" lengthAdjust="spacingAndGlyphs">Severe</text>
<text x="2220.2" y="1005.5" font-size="17.5" fill="#444444" text-anchor="end">2</text>
<rect x="2250.4" y="988.9" width="19.2" height="18.5" rx="5" fill="#3358d3"/>
<text x="2277.3" y="1005.3" font-size="17.2" fill="#444444" textLength="49.3" lengthAdjust="spacingAndGlyphs">Severe</text>
<text x="2450" y="1005.5" font-size="17.5" fill="#444444" text-anchor="end">3</text>
<rect x="2033.3" y="1022.5" width="19.2" height="18.5" rx="5" fill="#e8476b"/>
<text x="2060.7" y="1038.9" font-size="17.2" fill="#444444" textLength="45.5" lengthAdjust="spacingAndGlyphs">Heavy</text>
<text x="2220.2" y="1039.1" font-size="17.5" fill="#444444" text-anchor="end">0</text>
<rect x="2250.4" y="1022.5" width="19.2" height="18.5" rx="5" fill="#4d8ef4"/>
<text x="2277.3" y="1038.9" font-size="17.2" fill="#444444" textLength="45.5" lengthAdjust="spacingAndGlyphs">Heavy</text>
<text x="2450" y="1039.1" font-size="17.5" fill="#444444" text-anchor="end">2</text>
<rect x="2033.3" y="1056.3" width="19.2" height="18.5" rx="5" fill="#f3a6b6"/>
<text x="2060.7" y="1072.7" font-size="17.2" fill="#444444" textLength="61.7" lengthAdjust="spacingAndGlyphs">Medium</text>
<text x="2220.2" y="1072.9" font-size="17.5" fill="#444444" text-anchor="end">2</text>
<rect x="2250.4" y="1056.3" width="19.2" height="18.5" rx="5" fill="#92c4f8"/>
<text x="2277.3" y="1072.7" font-size="17.2" fill="#444444" textLength="61.7" lengthAdjust="spacingAndGlyphs">Medium</text>
<text x="2450" y="1072.9" font-size="17.5" fill="#444444" text-anchor="end">1</text>
<rect x="2033.3" y="1090.1" width="19.2" height="18.5" rx="5" fill="#fbe2e7"/>
<text x="2060.7" y="1106.5" font-size="17.2" fill="#444444" textLength="39.7" lengthAdjust="spacingAndGlyphs">Small</text>
<text x="2220.2" y="1106.7" font-size="17.5" fill="#444444" text-anchor="end">0</text>
<rect x="2250.4" y="1090.1" width="19.2" height="18.5" rx="5" fill="#d3e5fb"/>
<text x="2277.3" y="1106.5" font-size="17.2" fill="#444444" textLength="39.7" lengthAdjust="spacingAndGlyphs">Small</text>
<text x="2450" y="1106.7" font-size="17.5" fill="#444444" text-anchor="end">0</text>
<text x="2210.3" y="1199.4" font-size="17.8" fill="#ffffff" textLength="63.1" lengthAdjust="spacingAndGlyphs">Previous</text>
<text x="2224.6" y="1257.7" font-size="17.8" fill="#ffffff" textLength="34.5" lengthAdjust="spacingAndGlyphs">Next</text>
<text x="44.4" y="1397.6" font-size="16.8" fill="#f0f0f0" textLength="173.6" lengthAdjust="spacingAndGlyphs">Welcome to use V1.8.1</text>
<text x="2048.0" y="1397.9" font-size="16.8" fill="#f0f0f0" textLength="227.2" lengthAdjust="spacingAndGlyphs">2023-12-04 18:21:17 Monday</text>
<text x="2326.7" y="1397.9" font-size="16.8" fill="#f0f0f0" textLength="55.0" lengthAdjust="spacingAndGlyphs">Update</text>
<path d="M2320.3,1389 A7.6,7.6 0 0 0 2306,1390.5 M2305.9,1395.5 A7.6,7.6 0 0 0 2320.2,1394" fill="none" stroke="#ececec" stroke-width="1.5"/>
<path d="M2322,1386.5 L2321.6,1391 L2317.4,1389.8 Z M2304.2,1397.5 L2304.6,1393 L2308.8,1394.2 Z" fill="#ececec"/>
<g fill="none" stroke="#8a8a8a" stroke-width="1.45" stroke-linejoin="round"><rect x="2208.7" y="121.9" width="8.9" height="4.5"/><path d="M2208.7,134.7 H2204.9 V126.6 H2221.3 V134.7 H2217.6"/><rect x="2208.7" y="130.6" width="8.9" height="7.6"/></g>
<g fill="none" stroke="#8a8a8a" stroke-width="1.45"><path d="M2288.2,122.2 V130.5"/><path d="M2280.9,132.5 V137 H2295.5 V132.5"/></g><path d="M2285.4,129.8 H2291 L2288.2,133.3 Z" fill="#8a8a8a"/>
<g fill="none" stroke="#8a8a8a" stroke-width="1.6"><path d="M2368,124.5 H2378.5 V136.5 H2366.5"/><path d="M2370.5,122 L2367.5,124.5 L2370.5,127"/></g>
<path d="M2490.8,1115.5 L2485.2,1121.8 L2490.8,1128" fill="none" stroke="#ffffff" stroke-width="2.6" stroke-linecap="round" stroke-linejoin="round"/>
</svg>
</body></html>
